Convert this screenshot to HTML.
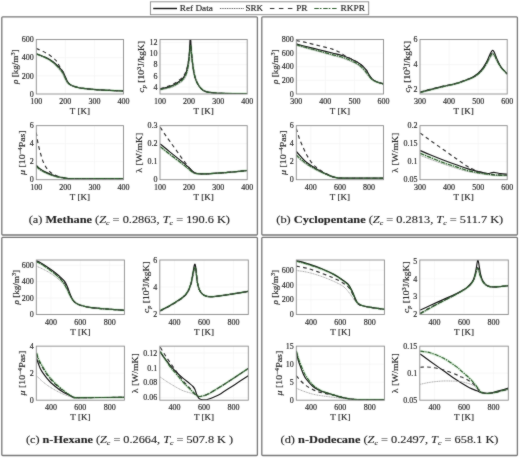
<!DOCTYPE html>
<html><head><meta charset="utf-8"><title>figure</title><style>
html,body{margin:0;padding:0;background:#fff;}
svg{display:block;}
text{font-family:"Liberation Serif","DejaVu Serif",serif;fill:#252525;stroke:#252525;stroke-width:0.16px;}
.t{font-size:8px;}
.l{font-size:9px;}
.c{font-size:11px;fill:#222;stroke-width:0.12px;}
.g{font-size:9px;}
</style></head><body>
<svg width="520" height="458" viewBox="0 0 520 458">
<defs><filter id="bl" x="0" y="0" width="520" height="458" filterUnits="userSpaceOnUse" color-interpolation-filters="sRGB"><feConvolveMatrix order="3" kernelMatrix="1 2 1 2 24 2 1 2 1" edgeMode="duplicate"/></filter></defs>
<g filter="url(#bl)">
<rect width="520" height="458" fill="#fff"/>
<rect x="1.8" y="16.8" width="255.6" height="218.2" rx="1" fill="none" stroke="#777" stroke-width="1.3"/>
<rect x="261.8" y="16.8" width="255.6" height="218.2" rx="1" fill="none" stroke="#777" stroke-width="1.3"/>
<rect x="1.8" y="237.3" width="255.6" height="218.2" rx="1" fill="none" stroke="#777" stroke-width="1.3"/>
<rect x="261.8" y="237.3" width="255.6" height="218.2" rx="1" fill="none" stroke="#777" stroke-width="1.3"/>
<line x1="65.37" y1="39.5" x2="65.37" y2="94.0" stroke="#f2f2f2" stroke-width="0.6"/>
<line x1="94.43" y1="39.5" x2="94.43" y2="94.0" stroke="#f2f2f2" stroke-width="0.6"/>
<line x1="36.3" y1="75.83" x2="123.5" y2="75.83" stroke="#f2f2f2" stroke-width="0.6"/>
<line x1="36.3" y1="57.67" x2="123.5" y2="57.67" stroke="#f2f2f2" stroke-width="0.6"/>
<clipPath id="cpA1"><rect x="36.3" y="39.5" width="87.20" height="54.50"/></clipPath>
<g clip-path="url(#cpA1)" fill="none" stroke-linejoin="round">
<path d="M36.30,54.00 C37.93,54.67 43.38,56.67 46.10,58.00 C48.83,59.33 50.52,60.33 52.65,62.00 C54.78,63.67 57.22,66.20 58.90,68.00 C60.58,69.80 61.63,71.08 62.70,72.80 C63.77,74.52 64.40,76.58 65.30,78.30 C66.20,80.02 66.93,81.85 68.10,83.10 C69.27,84.35 70.51,85.02 72.30,85.80 C74.09,86.58 77.05,87.32 78.85,87.75 C80.65,88.18 80.21,88.08 83.10,88.40 C85.99,88.73 91.83,89.37 96.20,89.70 C100.57,90.03 104.75,90.18 109.30,90.40 C113.85,90.62 121.13,90.90 123.50,91.00" stroke="#e2f3e2" stroke-width="2.8"/>
<path d="M36.30,53.70 C37.93,54.35 43.38,56.30 46.10,57.60 C48.83,58.90 50.47,59.87 52.65,61.50 C54.83,63.13 57.46,65.65 59.20,67.40 C60.94,69.15 62.01,70.25 63.10,72.00 C64.19,73.75 64.87,76.07 65.75,77.90 C66.63,79.73 67.31,81.68 68.40,83.00 C69.49,84.32 70.56,85.01 72.30,85.80 C74.04,86.59 77.05,87.32 78.85,87.75 C80.65,88.18 80.21,88.08 83.10,88.40 C85.99,88.73 91.83,89.37 96.20,89.70 C100.57,90.03 104.75,90.18 109.30,90.40 C113.85,90.62 121.13,90.90 123.50,91.00" stroke="#1a1a1a" stroke-width="1.2"/>
<path d="M36.30,54.30 C37.93,54.98 43.38,57.03 46.10,58.40 C48.83,59.77 50.58,60.80 52.65,62.50 C54.72,64.20 56.89,66.75 58.50,68.60 C60.11,70.45 61.23,71.92 62.30,73.60 C63.37,75.28 63.98,77.08 64.90,78.70 C65.82,80.32 66.57,82.10 67.80,83.30 C69.03,84.50 70.46,85.16 72.30,85.90 C74.14,86.64 77.05,87.33 78.85,87.75 C80.65,88.17 80.21,88.08 83.10,88.40 C85.99,88.73 91.83,89.37 96.20,89.70 C100.57,90.03 104.75,90.18 109.30,90.40 C113.85,90.62 121.13,90.90 123.50,91.00" stroke="#959595" stroke-width="0.8" stroke-dasharray="1.2 0.5"/>
<path d="M36.30,48.45 C37.93,49.21 43.38,51.49 46.10,53.00 C48.83,54.51 50.90,56.13 52.65,57.50 C54.40,58.87 55.44,59.70 56.60,61.20 C57.76,62.70 58.52,64.70 59.60,66.50 C60.68,68.30 62.08,70.10 63.10,72.00 C64.12,73.90 64.87,76.07 65.75,77.90 C66.63,79.73 67.31,81.68 68.40,83.00 C69.49,84.32 70.56,85.01 72.30,85.80 C74.04,86.59 77.05,87.32 78.85,87.75 C80.65,88.18 80.21,88.08 83.10,88.40 C85.99,88.73 91.83,89.37 96.20,89.70 C100.57,90.03 104.75,90.18 109.30,90.40 C113.85,90.62 121.13,90.90 123.50,91.00" stroke="#333" stroke-width="1.15" stroke-dasharray="3.7 3.2"/>
<path d="M36.30,54.00 C37.93,54.67 43.38,56.67 46.10,58.00 C48.83,59.33 50.52,60.33 52.65,62.00 C54.78,63.67 57.22,66.20 58.90,68.00 C60.58,69.80 61.63,71.08 62.70,72.80 C63.77,74.52 64.40,76.58 65.30,78.30 C66.20,80.02 66.93,81.85 68.10,83.10 C69.27,84.35 70.51,85.02 72.30,85.80 C74.09,86.58 77.05,87.32 78.85,87.75 C80.65,88.18 80.21,88.08 83.10,88.40 C85.99,88.73 91.83,89.37 96.20,89.70 C100.57,90.03 104.75,90.18 109.30,90.40 C113.85,90.62 121.13,90.90 123.50,91.00" stroke="#2b5c2b" stroke-width="1.15" stroke-dasharray="4.2 0.9 1.4 0.9"/>
</g>
<rect x="36.3" y="39.5" width="87.20" height="54.50" fill="none" stroke="#8c8c8c" stroke-width="0.9"/>
<text x="36.30" y="104.00" class="t" text-anchor="middle">100</text>
<text x="65.37" y="104.00" class="t" text-anchor="middle">200</text>
<text x="94.43" y="104.00" class="t" text-anchor="middle">300</text>
<text x="123.50" y="104.00" class="t" text-anchor="middle">400</text>
<text x="33.70" y="96.70" class="t" text-anchor="end">0</text>
<text x="33.70" y="78.53" class="t" text-anchor="end">200</text>
<text x="33.70" y="60.37" class="t" text-anchor="end">400</text>
<text x="33.70" y="42.20" class="t" text-anchor="end">600</text>
<text x="79.90" y="114.10" class="l" text-anchor="middle">T [K]</text>
<text transform="translate(17.50,66.75) rotate(-90)" class="l" text-anchor="middle" textLength="34.5" lengthAdjust="spacingAndGlyphs"><tspan font-style="italic">ρ</tspan> [kg/m<tspan dy="-3" font-size="6">3</tspan><tspan dy="3">]</tspan></text>
<line x1="189.07" y1="39.5" x2="189.07" y2="94.0" stroke="#f2f2f2" stroke-width="0.6"/>
<line x1="218.13" y1="39.5" x2="218.13" y2="94.0" stroke="#f2f2f2" stroke-width="0.6"/>
<line x1="160" y1="87.05" x2="247.2" y2="87.05" stroke="#f2f2f2" stroke-width="0.6"/>
<line x1="160" y1="75.85" x2="247.2" y2="75.85" stroke="#f2f2f2" stroke-width="0.6"/>
<line x1="160" y1="64.65" x2="247.2" y2="64.65" stroke="#f2f2f2" stroke-width="0.6"/>
<line x1="160" y1="53.45" x2="247.2" y2="53.45" stroke="#f2f2f2" stroke-width="0.6"/>
<line x1="160" y1="42.24" x2="247.2" y2="42.24" stroke="#f2f2f2" stroke-width="0.6"/>
<clipPath id="cpA2"><rect x="160" y="39.5" width="87.20" height="54.50"/></clipPath>
<g clip-path="url(#cpA2)" fill="none" stroke-linejoin="round">
<path d="M160.30,89.50 C161.93,89.08 167.38,87.92 170.10,87.00 C172.82,86.08 174.47,85.33 176.65,84.00 C178.83,82.67 181.56,80.83 183.20,79.00 C184.84,77.17 185.62,75.50 186.50,73.00 C187.38,70.50 187.97,67.33 188.50,64.00 C189.03,60.67 189.40,56.00 189.70,53.00 C190.00,50.00 190.08,47.00 190.30,46.00 C190.52,45.00 190.77,45.50 191.00,47.00 C191.23,48.50 191.42,52.17 191.70,55.00 C191.98,57.83 192.32,61.17 192.70,64.00 C193.08,66.83 193.52,69.47 194.00,72.00 C194.48,74.53 194.77,76.87 195.60,79.20 C196.43,81.53 197.77,84.17 199.00,86.00 C200.23,87.83 201.48,89.17 203.00,90.20 C204.52,91.23 206.10,91.73 208.10,92.20 C210.10,92.67 212.82,92.80 215.00,93.00 C217.18,93.20 215.83,93.30 221.20,93.40 C226.57,93.50 242.87,93.57 247.20,93.60" stroke="#e2f3e2" stroke-width="2.8"/>
<path d="M160.30,89.10 C161.93,88.65 167.38,87.38 170.10,86.40 C172.82,85.42 174.47,84.62 176.65,83.20 C178.83,81.78 181.56,79.87 183.20,77.90 C184.84,75.93 185.63,74.02 186.50,71.40 C187.37,68.78 187.90,65.48 188.40,62.20 C188.90,58.92 189.23,55.20 189.50,51.70 C189.77,48.20 189.85,43.65 190.00,41.20 C190.15,38.75 190.27,37.00 190.40,37.00 C190.53,37.00 190.65,38.75 190.80,41.20 C190.95,43.65 191.03,48.20 191.30,51.70 C191.57,55.20 192.02,58.92 192.40,62.20 C192.78,65.48 193.07,68.57 193.60,71.40 C194.13,74.23 194.70,76.77 195.60,79.20 C196.50,81.63 197.77,84.17 199.00,86.00 C200.23,87.83 201.48,89.17 203.00,90.20 C204.52,91.23 206.10,91.73 208.10,92.20 C210.10,92.67 212.82,92.80 215.00,93.00 C217.18,93.20 215.83,93.30 221.20,93.40 C226.57,93.50 242.87,93.57 247.20,93.60" stroke="#1a1a1a" stroke-width="1.2"/>
<path d="M160.30,90.00 C161.93,89.63 167.38,88.63 170.10,87.80 C172.82,86.97 174.47,86.22 176.65,85.00 C178.83,83.78 181.56,82.25 183.20,80.50 C184.84,78.75 185.60,77.08 186.50,74.50 C187.40,71.92 188.05,68.25 188.60,65.00 C189.15,61.75 189.48,57.67 189.80,55.00 C190.12,52.33 190.27,49.83 190.50,49.00 C190.73,48.17 190.95,48.50 191.20,50.00 C191.45,51.50 191.70,55.33 192.00,58.00 C192.30,60.67 192.63,63.50 193.00,66.00 C193.37,68.50 193.63,70.67 194.20,73.00 C194.77,75.33 195.52,77.78 196.40,80.00 C197.28,82.22 198.40,84.60 199.50,86.30 C200.60,88.00 201.57,89.22 203.00,90.20 C204.43,91.18 206.10,91.73 208.10,92.20 C210.10,92.67 212.82,92.80 215.00,93.00 C217.18,93.20 215.83,93.30 221.20,93.40 C226.57,93.50 242.87,93.57 247.20,93.60" stroke="#959595" stroke-width="0.8" stroke-dasharray="1.2 0.5"/>
<path d="M160.30,88.70 C161.93,88.18 167.38,86.72 170.10,85.60 C172.82,84.48 174.47,83.52 176.65,82.00 C178.83,80.48 181.59,78.42 183.20,76.50 C184.81,74.58 185.45,72.92 186.30,70.50 C187.15,68.08 187.77,65.08 188.30,62.00 C188.83,58.92 189.18,54.83 189.50,52.00 C189.82,49.17 189.97,46.00 190.20,45.00 C190.43,44.00 190.67,44.50 190.90,46.00 C191.13,47.50 191.32,51.17 191.60,54.00 C191.88,56.83 192.22,60.08 192.60,63.00 C192.98,65.92 193.40,68.80 193.90,71.50 C194.40,74.20 194.75,76.78 195.60,79.20 C196.45,81.62 197.77,84.17 199.00,86.00 C200.23,87.83 201.48,89.17 203.00,90.20 C204.52,91.23 206.10,91.73 208.10,92.20 C210.10,92.67 212.82,92.80 215.00,93.00 C217.18,93.20 215.83,93.30 221.20,93.40 C226.57,93.50 242.87,93.57 247.20,93.60" stroke="#333" stroke-width="1.15" stroke-dasharray="3.7 3.2"/>
<path d="M160.30,89.50 C161.93,89.08 167.38,87.92 170.10,87.00 C172.82,86.08 174.47,85.33 176.65,84.00 C178.83,82.67 181.56,80.83 183.20,79.00 C184.84,77.17 185.62,75.50 186.50,73.00 C187.38,70.50 187.97,67.33 188.50,64.00 C189.03,60.67 189.40,56.00 189.70,53.00 C190.00,50.00 190.08,47.00 190.30,46.00 C190.52,45.00 190.77,45.50 191.00,47.00 C191.23,48.50 191.42,52.17 191.70,55.00 C191.98,57.83 192.32,61.17 192.70,64.00 C193.08,66.83 193.52,69.47 194.00,72.00 C194.48,74.53 194.77,76.87 195.60,79.20 C196.43,81.53 197.77,84.17 199.00,86.00 C200.23,87.83 201.48,89.17 203.00,90.20 C204.52,91.23 206.10,91.73 208.10,92.20 C210.10,92.67 212.82,92.80 215.00,93.00 C217.18,93.20 215.83,93.30 221.20,93.40 C226.57,93.50 242.87,93.57 247.20,93.60" stroke="#2b5c2b" stroke-width="1.15" stroke-dasharray="4.2 0.9 1.4 0.9"/>
</g>
<rect x="160" y="39.5" width="87.20" height="54.50" fill="none" stroke="#8c8c8c" stroke-width="0.9"/>
<text x="160.00" y="104.00" class="t" text-anchor="middle">100</text>
<text x="189.07" y="104.00" class="t" text-anchor="middle">200</text>
<text x="218.13" y="104.00" class="t" text-anchor="middle">300</text>
<text x="247.20" y="104.00" class="t" text-anchor="middle">400</text>
<text x="157.40" y="89.75" class="t" text-anchor="end">4</text>
<text x="157.40" y="78.55" class="t" text-anchor="end">6</text>
<text x="157.40" y="67.35" class="t" text-anchor="end">8</text>
<text x="157.40" y="56.15" class="t" text-anchor="end">10</text>
<text x="157.40" y="44.94" class="t" text-anchor="end">12</text>
<text x="203.60" y="114.10" class="l" text-anchor="middle">T [K]</text>
<text transform="translate(144.40,66.75) rotate(-90)" class="l" text-anchor="middle" textLength="51.3" lengthAdjust="spacingAndGlyphs"><tspan font-style="italic">c</tspan><tspan dy="1.5" font-size="6" font-style="italic">p</tspan><tspan dy="-1.5"> [10</tspan><tspan dy="-3" font-size="6">3</tspan><tspan dy="3">J/kgK]</tspan></text>
<line x1="65.37" y1="125.65" x2="65.37" y2="179.7" stroke="#f2f2f2" stroke-width="0.6"/>
<line x1="94.43" y1="125.65" x2="94.43" y2="179.7" stroke="#f2f2f2" stroke-width="0.6"/>
<line x1="36.3" y1="161.68" x2="123.5" y2="161.68" stroke="#f2f2f2" stroke-width="0.6"/>
<line x1="36.3" y1="143.67" x2="123.5" y2="143.67" stroke="#f2f2f2" stroke-width="0.6"/>
<clipPath id="cpA3"><rect x="36.3" y="125.65" width="87.20" height="54.05"/></clipPath>
<g clip-path="url(#cpA3)" fill="none" stroke-linejoin="round">
<path d="M36.30,166.10 C36.84,166.62 37.92,168.07 39.55,169.20 C41.18,170.33 43.92,171.85 46.10,172.90 C48.28,173.95 50.47,174.78 52.65,175.50 C54.83,176.22 56.79,176.70 59.20,177.20 C61.61,177.70 64.92,178.25 67.10,178.50 C69.28,178.75 67.98,178.67 72.30,178.70 C76.62,178.73 84.47,178.72 93.00,178.70 C101.53,178.68 118.42,178.62 123.50,178.60" stroke="#e2f3e2" stroke-width="2.8"/>
<path d="M36.30,165.20 C36.84,165.75 37.92,167.30 39.55,168.50 C41.18,169.70 43.92,171.30 46.10,172.40 C48.28,173.50 50.47,174.33 52.65,175.10 C54.83,175.87 56.79,176.45 59.20,177.00 C61.61,177.55 64.92,178.12 67.10,178.40 C69.28,178.68 67.98,178.65 72.30,178.70 C76.62,178.75 84.47,178.72 93.00,178.70 C101.53,178.68 118.42,178.62 123.50,178.60" stroke="#1a1a1a" stroke-width="1.2"/>
<path d="M36.30,166.70 C36.84,167.22 37.92,168.70 39.55,169.80 C41.18,170.90 43.92,172.30 46.10,173.30 C48.28,174.30 50.47,175.12 52.65,175.80 C54.83,176.48 56.79,176.95 59.20,177.40 C61.61,177.85 64.92,178.28 67.10,178.50 C69.28,178.72 67.98,178.67 72.30,178.70 C76.62,178.73 84.47,178.72 93.00,178.70 C101.53,178.68 118.42,178.62 123.50,178.60" stroke="#959595" stroke-width="0.8" stroke-dasharray="1.2 0.5"/>
<path d="M36.30,132.50 C36.62,134.47 37.43,140.59 38.20,144.30 C38.97,148.01 40.02,151.70 40.90,154.75 C41.78,157.80 42.42,160.19 43.50,162.60 C44.58,165.01 45.88,167.32 47.40,169.20 C48.92,171.08 50.68,172.63 52.65,173.90 C54.62,175.17 56.79,176.05 59.20,176.80 C61.61,177.55 64.92,178.08 67.10,178.40 C69.28,178.72 67.98,178.65 72.30,178.70 C76.62,178.75 84.47,178.72 93.00,178.70 C101.53,178.68 118.42,178.62 123.50,178.60" stroke="#333" stroke-width="1.15" stroke-dasharray="3.7 3.2"/>
<path d="M36.30,166.10 C36.84,166.62 37.92,168.07 39.55,169.20 C41.18,170.33 43.92,171.85 46.10,172.90 C48.28,173.95 50.47,174.78 52.65,175.50 C54.83,176.22 56.79,176.70 59.20,177.20 C61.61,177.70 64.92,178.25 67.10,178.50 C69.28,178.75 67.98,178.67 72.30,178.70 C76.62,178.73 84.47,178.72 93.00,178.70 C101.53,178.68 118.42,178.62 123.50,178.60" stroke="#2b5c2b" stroke-width="1.15" stroke-dasharray="4.2 0.9 1.4 0.9"/>
</g>
<rect x="36.3" y="125.65" width="87.20" height="54.05" fill="none" stroke="#8c8c8c" stroke-width="0.9"/>
<text x="36.30" y="189.70" class="t" text-anchor="middle">100</text>
<text x="65.37" y="189.70" class="t" text-anchor="middle">200</text>
<text x="94.43" y="189.70" class="t" text-anchor="middle">300</text>
<text x="123.50" y="189.70" class="t" text-anchor="middle">400</text>
<text x="33.70" y="182.40" class="t" text-anchor="end">0</text>
<text x="33.70" y="164.38" class="t" text-anchor="end">2</text>
<text x="33.70" y="146.37" class="t" text-anchor="end">4</text>
<text x="33.70" y="128.35" class="t" text-anchor="end">6</text>
<text x="79.90" y="199.80" class="l" text-anchor="middle">T [K]</text>
<text transform="translate(24.70,152.68) rotate(-90)" class="l" text-anchor="middle" textLength="44.7" lengthAdjust="spacingAndGlyphs"><tspan font-style="italic">μ</tspan> [10<tspan dy="-3" font-size="6">−4</tspan><tspan dy="3">Pas]</tspan></text>
<line x1="189.07" y1="125.65" x2="189.07" y2="179.7" stroke="#f2f2f2" stroke-width="0.6"/>
<line x1="218.13" y1="125.65" x2="218.13" y2="179.7" stroke="#f2f2f2" stroke-width="0.6"/>
<line x1="160" y1="161.68" x2="247.2" y2="161.68" stroke="#f2f2f2" stroke-width="0.6"/>
<line x1="160" y1="143.67" x2="247.2" y2="143.67" stroke="#f2f2f2" stroke-width="0.6"/>
<clipPath id="cpA4"><rect x="160" y="125.65" width="87.20" height="54.05"/></clipPath>
<g clip-path="url(#cpA4)" fill="none" stroke-linejoin="round">
<path d="M160.30,146.60 C161.93,147.92 166.28,151.52 170.10,154.50 C173.92,157.48 179.95,161.95 183.20,164.50 C186.45,167.05 187.87,168.42 189.60,169.80 C191.33,171.18 192.37,172.15 193.60,172.80 C194.83,173.45 195.68,173.52 197.00,173.70 C198.32,173.88 199.70,173.88 201.55,173.90 C203.40,173.92 204.82,173.97 208.10,173.80 C211.38,173.63 216.83,173.23 221.20,172.90 C225.57,172.57 229.97,172.20 234.30,171.80 C238.63,171.40 245.05,170.72 247.20,170.50" stroke="#e2f3e2" stroke-width="2.8"/>
<path d="M160.30,144.00 C161.93,145.35 166.28,149.00 170.10,152.10 C173.92,155.20 179.92,159.87 183.20,162.60 C186.47,165.33 188.00,166.90 189.75,168.50 C191.50,170.10 192.49,171.37 193.70,172.20 C194.91,173.03 195.69,173.22 197.00,173.50 C198.31,173.78 199.70,173.85 201.55,173.90 C203.40,173.95 204.82,173.97 208.10,173.80 C211.38,173.63 216.83,173.23 221.20,172.90 C225.57,172.57 229.97,172.20 234.30,171.80 C238.63,171.40 245.05,170.72 247.20,170.50" stroke="#1a1a1a" stroke-width="1.2"/>
<path d="M160.30,147.20 C161.93,148.50 166.28,152.03 170.10,155.00 C173.92,157.97 179.97,162.47 183.20,165.00 C186.43,167.53 187.78,168.87 189.50,170.20 C191.22,171.53 192.25,172.40 193.50,173.00 C194.75,173.60 195.66,173.65 197.00,173.80 C198.34,173.95 199.70,173.90 201.55,173.90 C203.40,173.90 204.82,173.97 208.10,173.80 C211.38,173.63 216.83,173.23 221.20,172.90 C225.57,172.57 229.97,172.20 234.30,171.80 C238.63,171.40 245.05,170.72 247.20,170.50" stroke="#959595" stroke-width="0.8" stroke-dasharray="1.2 0.5"/>
<path d="M160.30,127.30 C161.07,128.48 163.27,132.00 164.90,134.40 C166.53,136.80 168.14,138.97 170.10,141.70 C172.06,144.43 174.47,147.75 176.65,150.80 C178.83,153.85 181.02,157.08 183.20,160.00 C185.38,162.92 188.00,166.27 189.75,168.30 C191.50,170.33 192.49,171.33 193.70,172.20 C194.91,173.07 195.69,173.22 197.00,173.50 C198.31,173.78 199.70,173.85 201.55,173.90 C203.40,173.95 204.82,173.97 208.10,173.80 C211.38,173.63 216.83,173.23 221.20,172.90 C225.57,172.57 229.97,172.20 234.30,171.80 C238.63,171.40 245.05,170.72 247.20,170.50" stroke="#333" stroke-width="1.15" stroke-dasharray="3.7 3.2"/>
<path d="M160.30,146.60 C161.93,147.92 166.28,151.52 170.10,154.50 C173.92,157.48 179.95,161.95 183.20,164.50 C186.45,167.05 187.87,168.42 189.60,169.80 C191.33,171.18 192.37,172.15 193.60,172.80 C194.83,173.45 195.68,173.52 197.00,173.70 C198.32,173.88 199.70,173.88 201.55,173.90 C203.40,173.92 204.82,173.97 208.10,173.80 C211.38,173.63 216.83,173.23 221.20,172.90 C225.57,172.57 229.97,172.20 234.30,171.80 C238.63,171.40 245.05,170.72 247.20,170.50" stroke="#2b5c2b" stroke-width="1.15" stroke-dasharray="4.2 0.9 1.4 0.9"/>
</g>
<rect x="160" y="125.65" width="87.20" height="54.05" fill="none" stroke="#8c8c8c" stroke-width="0.9"/>
<text x="160.00" y="189.70" class="t" text-anchor="middle">100</text>
<text x="189.07" y="189.70" class="t" text-anchor="middle">200</text>
<text x="218.13" y="189.70" class="t" text-anchor="middle">300</text>
<text x="247.20" y="189.70" class="t" text-anchor="middle">400</text>
<text x="157.40" y="182.40" class="t" text-anchor="end">0</text>
<text x="157.40" y="164.38" class="t" text-anchor="end">0.1</text>
<text x="157.40" y="146.37" class="t" text-anchor="end">0.2</text>
<text x="157.40" y="128.35" class="t" text-anchor="end">0.3</text>
<text x="203.60" y="199.80" class="l" text-anchor="middle">T [K]</text>
<text transform="translate(141.90,152.68) rotate(-90)" class="l" text-anchor="middle" textLength="40.0" lengthAdjust="spacingAndGlyphs"><tspan>λ</tspan> [W/mK]</text>
<line x1="325.37" y1="39.5" x2="325.37" y2="94.0" stroke="#f2f2f2" stroke-width="0.6"/>
<line x1="354.43" y1="39.5" x2="354.43" y2="94.0" stroke="#f2f2f2" stroke-width="0.6"/>
<line x1="296.3" y1="80.38" x2="383.5" y2="80.38" stroke="#f2f2f2" stroke-width="0.6"/>
<line x1="296.3" y1="66.75" x2="383.5" y2="66.75" stroke="#f2f2f2" stroke-width="0.6"/>
<line x1="296.3" y1="53.12" x2="383.5" y2="53.12" stroke="#f2f2f2" stroke-width="0.6"/>
<clipPath id="cpB1"><rect x="296.3" y="39.5" width="87.20" height="54.50"/></clipPath>
<g clip-path="url(#cpB1)" fill="none" stroke-linejoin="round">
<path d="M296.30,44.80 C297.93,45.25 302.28,46.47 306.10,47.50 C309.92,48.53 314.83,49.82 319.20,51.00 C323.57,52.18 328.32,53.53 332.30,54.60 C336.28,55.67 339.12,55.98 343.10,57.40 C347.08,58.82 352.93,61.28 356.20,63.10 C359.47,64.92 360.87,66.48 362.75,68.30 C364.63,70.12 366.12,72.30 367.50,74.00 C368.88,75.70 369.75,77.28 371.00,78.50 C372.25,79.72 373.75,80.62 375.00,81.30 C376.25,81.98 377.08,82.18 378.50,82.60 C379.92,83.02 382.67,83.60 383.50,83.80" stroke="#e2f3e2" stroke-width="2.8"/>
<path d="M296.30,43.90 C297.93,44.33 302.28,45.52 306.10,46.50 C309.92,47.48 314.83,48.67 319.20,49.75 C323.57,50.83 328.32,51.99 332.30,53.00 C336.28,54.01 339.12,54.38 343.10,55.80 C347.08,57.22 352.93,59.78 356.20,61.50 C359.47,63.22 361.00,64.57 362.75,66.10 C364.50,67.63 365.61,69.17 366.70,70.70 C367.79,72.23 368.22,73.77 369.30,75.30 C370.38,76.83 371.67,78.70 373.20,79.90 C374.73,81.10 376.78,81.85 378.50,82.50 C380.22,83.15 382.67,83.58 383.50,83.80" stroke="#1a1a1a" stroke-width="1.2"/>
<path d="M296.30,45.40 C297.93,45.87 302.28,47.15 306.10,48.20 C309.92,49.25 314.83,50.50 319.20,51.70 C323.57,52.90 328.32,54.30 332.30,55.40 C336.28,56.50 339.12,56.87 343.10,58.30 C347.08,59.73 352.93,62.18 356.20,64.00 C359.47,65.82 360.78,67.23 362.75,69.20 C364.72,71.17 366.26,73.90 368.00,75.80 C369.74,77.70 371.45,79.45 373.20,80.60 C374.95,81.75 376.78,82.17 378.50,82.70 C380.22,83.23 382.67,83.62 383.50,83.80" stroke="#959595" stroke-width="0.8" stroke-dasharray="1.2 0.5"/>
<path d="M296.30,40.60 C297.93,40.92 302.28,41.68 306.10,42.55 C309.92,43.42 314.83,44.71 319.20,45.80 C323.57,46.89 328.83,47.98 332.30,49.10 C335.77,50.22 337.82,51.35 340.00,52.50 C342.18,53.65 342.70,54.50 345.40,56.00 C348.10,57.50 353.31,59.82 356.20,61.50 C359.09,63.18 361.00,64.57 362.75,66.10 C364.50,67.63 365.61,69.17 366.70,70.70 C367.79,72.23 368.22,73.77 369.30,75.30 C370.38,76.83 371.67,78.70 373.20,79.90 C374.73,81.10 376.78,81.85 378.50,82.50 C380.22,83.15 382.67,83.58 383.50,83.80" stroke="#333" stroke-width="1.15" stroke-dasharray="3.7 3.2"/>
<path d="M296.30,44.80 C297.93,45.25 302.28,46.47 306.10,47.50 C309.92,48.53 314.83,49.82 319.20,51.00 C323.57,52.18 328.32,53.53 332.30,54.60 C336.28,55.67 339.12,55.98 343.10,57.40 C347.08,58.82 352.93,61.28 356.20,63.10 C359.47,64.92 360.87,66.48 362.75,68.30 C364.63,70.12 366.12,72.30 367.50,74.00 C368.88,75.70 369.75,77.28 371.00,78.50 C372.25,79.72 373.75,80.62 375.00,81.30 C376.25,81.98 377.08,82.18 378.50,82.60 C379.92,83.02 382.67,83.60 383.50,83.80" stroke="#2b5c2b" stroke-width="1.15" stroke-dasharray="4.2 0.9 1.4 0.9"/>
</g>
<rect x="296.3" y="39.5" width="87.20" height="54.50" fill="none" stroke="#8c8c8c" stroke-width="0.9"/>
<text x="296.30" y="104.00" class="t" text-anchor="middle">300</text>
<text x="325.37" y="104.00" class="t" text-anchor="middle">400</text>
<text x="354.43" y="104.00" class="t" text-anchor="middle">500</text>
<text x="383.50" y="104.00" class="t" text-anchor="middle">600</text>
<text x="293.70" y="96.70" class="t" text-anchor="end">0</text>
<text x="293.70" y="83.08" class="t" text-anchor="end">200</text>
<text x="293.70" y="69.45" class="t" text-anchor="end">400</text>
<text x="293.70" y="55.83" class="t" text-anchor="end">600</text>
<text x="293.70" y="42.20" class="t" text-anchor="end">800</text>
<text x="339.90" y="114.10" class="l" text-anchor="middle">T [K]</text>
<text transform="translate(278.00,66.75) rotate(-90)" class="l" text-anchor="middle" textLength="34.5" lengthAdjust="spacingAndGlyphs"><tspan font-style="italic">ρ</tspan> [kg/m<tspan dy="-3" font-size="6">3</tspan><tspan dy="3">]</tspan></text>
<line x1="449.07" y1="39.5" x2="449.07" y2="94.0" stroke="#f2f2f2" stroke-width="0.6"/>
<line x1="478.13" y1="39.5" x2="478.13" y2="94.0" stroke="#f2f2f2" stroke-width="0.6"/>
<line x1="420" y1="89.68" x2="507.2" y2="89.68" stroke="#f2f2f2" stroke-width="0.6"/>
<line x1="420" y1="64.59" x2="507.2" y2="64.59" stroke="#f2f2f2" stroke-width="0.6"/>
<clipPath id="cpB2"><rect x="420" y="39.5" width="87.20" height="54.50"/></clipPath>
<g clip-path="url(#cpB2)" fill="none" stroke-linejoin="round">
<path d="M420.30,92.50 C421.93,92.07 426.28,90.88 430.10,89.90 C433.92,88.92 438.83,87.65 443.20,86.60 C447.57,85.55 452.15,84.78 456.30,83.60 C460.45,82.42 465.04,80.68 468.10,79.50 C471.16,78.32 472.47,77.88 474.65,76.50 C476.83,75.12 479.24,73.32 481.20,71.20 C483.16,69.08 484.98,66.12 486.40,63.80 C487.82,61.48 488.72,58.93 489.70,57.30 C490.68,55.67 491.52,54.38 492.30,54.00 C493.08,53.62 493.62,53.92 494.40,55.00 C495.18,56.08 495.93,58.47 497.00,60.50 C498.07,62.53 499.55,65.37 500.85,67.20 C502.15,69.03 503.71,70.37 504.80,71.50 C505.89,72.63 506.97,73.58 507.40,74.00" stroke="#e2f3e2" stroke-width="2.8"/>
<path d="M420.30,92.30 C421.93,91.87 426.28,90.68 430.10,89.70 C433.92,88.72 438.83,87.43 443.20,86.40 C447.57,85.37 452.15,84.68 456.30,83.50 C460.45,82.32 465.04,80.55 468.10,79.30 C471.16,78.05 472.47,77.53 474.65,76.00 C476.83,74.47 479.24,72.40 481.20,70.10 C483.16,67.80 484.98,64.72 486.40,62.20 C487.82,59.68 488.72,56.97 489.70,55.00 C490.68,53.03 491.53,50.83 492.30,50.40 C493.07,49.97 493.53,50.98 494.30,52.40 C495.07,53.82 495.81,56.50 496.90,58.90 C497.99,61.30 499.53,64.72 500.85,66.80 C502.17,68.88 503.71,70.20 504.80,71.40 C505.89,72.60 506.97,73.57 507.40,74.00" stroke="#1a1a1a" stroke-width="1.2"/>
<path d="M420.30,92.80 C421.93,92.37 426.28,91.18 430.10,90.20 C433.92,89.22 438.83,87.95 443.20,86.90 C447.57,85.85 452.15,85.08 456.30,83.90 C460.45,82.72 465.04,80.95 468.10,79.80 C471.16,78.65 472.47,78.33 474.65,77.00 C476.83,75.67 479.24,73.83 481.20,71.80 C483.16,69.77 484.98,66.97 486.40,64.80 C487.82,62.63 488.72,60.28 489.70,58.80 C490.68,57.32 491.50,56.27 492.30,55.90 C493.10,55.53 493.72,55.75 494.50,56.60 C495.28,57.45 495.94,59.18 497.00,61.00 C498.06,62.82 499.55,65.73 500.85,67.50 C502.15,69.27 503.71,70.52 504.80,71.60 C505.89,72.68 506.97,73.60 507.40,74.00" stroke="#959595" stroke-width="0.8" stroke-dasharray="1.2 0.5"/>
<path d="M420.30,92.00 C421.93,91.57 426.28,90.38 430.10,89.40 C433.92,88.42 438.83,87.13 443.20,86.10 C447.57,85.07 452.15,84.37 456.30,83.20 C460.45,82.03 465.04,80.27 468.10,79.10 C471.16,77.93 472.47,77.58 474.65,76.20 C476.83,74.82 479.24,72.97 481.20,70.80 C483.16,68.63 484.98,65.58 486.40,63.20 C487.82,60.82 488.72,58.20 489.70,56.50 C490.68,54.80 491.52,53.38 492.30,53.00 C493.08,52.62 493.62,53.03 494.40,54.20 C495.18,55.37 495.93,57.87 497.00,60.00 C498.07,62.13 499.55,65.08 500.85,67.00 C502.15,68.92 503.71,70.33 504.80,71.50 C505.89,72.67 506.97,73.58 507.40,74.00" stroke="#333" stroke-width="1.15" stroke-dasharray="3.7 3.2"/>
<path d="M420.30,92.50 C421.93,92.07 426.28,90.88 430.10,89.90 C433.92,88.92 438.83,87.65 443.20,86.60 C447.57,85.55 452.15,84.78 456.30,83.60 C460.45,82.42 465.04,80.68 468.10,79.50 C471.16,78.32 472.47,77.88 474.65,76.50 C476.83,75.12 479.24,73.32 481.20,71.20 C483.16,69.08 484.98,66.12 486.40,63.80 C487.82,61.48 488.72,58.93 489.70,57.30 C490.68,55.67 491.52,54.38 492.30,54.00 C493.08,53.62 493.62,53.92 494.40,55.00 C495.18,56.08 495.93,58.47 497.00,60.50 C498.07,62.53 499.55,65.37 500.85,67.20 C502.15,69.03 503.71,70.37 504.80,71.50 C505.89,72.63 506.97,73.58 507.40,74.00" stroke="#2b5c2b" stroke-width="1.15" stroke-dasharray="4.2 0.9 1.4 0.9"/>
</g>
<rect x="420" y="39.5" width="87.20" height="54.50" fill="none" stroke="#8c8c8c" stroke-width="0.9"/>
<text x="420.00" y="104.00" class="t" text-anchor="middle">300</text>
<text x="449.07" y="104.00" class="t" text-anchor="middle">400</text>
<text x="478.13" y="104.00" class="t" text-anchor="middle">500</text>
<text x="507.20" y="104.00" class="t" text-anchor="middle">600</text>
<text x="417.40" y="92.38" class="t" text-anchor="end">2</text>
<text x="417.40" y="67.29" class="t" text-anchor="end">4</text>
<text x="417.40" y="42.20" class="t" text-anchor="end">6</text>
<text x="463.60" y="114.10" class="l" text-anchor="middle">T [K]</text>
<text transform="translate(409.90,66.75) rotate(-90)" class="l" text-anchor="middle" textLength="51.3" lengthAdjust="spacingAndGlyphs"><tspan font-style="italic">c</tspan><tspan dy="1.5" font-size="6" font-style="italic">p</tspan><tspan dy="-1.5"> [10</tspan><tspan dy="-3" font-size="6">3</tspan><tspan dy="3">J/kgK]</tspan></text>
<line x1="310.83" y1="125.65" x2="310.83" y2="179.7" stroke="#f2f2f2" stroke-width="0.6"/>
<line x1="339.90" y1="125.65" x2="339.90" y2="179.7" stroke="#f2f2f2" stroke-width="0.6"/>
<line x1="368.97" y1="125.65" x2="368.97" y2="179.7" stroke="#f2f2f2" stroke-width="0.6"/>
<line x1="296.3" y1="161.68" x2="383.5" y2="161.68" stroke="#f2f2f2" stroke-width="0.6"/>
<line x1="296.3" y1="143.67" x2="383.5" y2="143.67" stroke="#f2f2f2" stroke-width="0.6"/>
<clipPath id="cpB3"><rect x="296.3" y="125.65" width="87.20" height="54.05"/></clipPath>
<g clip-path="url(#cpB3)" fill="none" stroke-linejoin="round">
<path d="M296.30,155.00 C297.07,155.70 299.27,157.80 300.90,159.20 C302.53,160.60 304.14,162.02 306.10,163.40 C308.06,164.78 310.47,166.22 312.65,167.50 C314.83,168.78 317.02,170.00 319.20,171.10 C321.38,172.20 323.57,173.17 325.75,174.10 C327.93,175.03 330.34,176.07 332.30,176.70 C334.26,177.33 335.38,177.65 337.50,177.90 C339.62,178.15 337.33,178.15 345.00,178.20 C352.67,178.25 377.08,178.20 383.50,178.20" stroke="#e2f3e2" stroke-width="2.8"/>
<path d="M296.30,151.50 C297.07,152.37 299.27,154.95 300.90,156.70 C302.53,158.45 304.14,160.37 306.10,162.00 C308.06,163.63 310.47,165.08 312.65,166.50 C314.83,167.92 317.02,169.29 319.20,170.50 C321.38,171.71 323.57,172.73 325.75,173.75 C327.93,174.77 330.34,175.91 332.30,176.60 C334.26,177.29 335.38,177.63 337.50,177.90 C339.62,178.17 337.33,178.15 345.00,178.20 C352.67,178.25 377.08,178.20 383.50,178.20" stroke="#1a1a1a" stroke-width="1.2"/>
<path d="M296.30,156.50 C297.07,157.17 299.27,159.20 300.90,160.50 C302.53,161.80 304.14,163.03 306.10,164.30 C308.06,165.57 310.47,166.90 312.65,168.10 C314.83,169.30 317.02,170.47 319.20,171.50 C321.38,172.53 323.57,173.42 325.75,174.30 C327.93,175.18 330.34,176.20 332.30,176.80 C334.26,177.40 335.38,177.67 337.50,177.90 C339.62,178.13 337.33,178.15 345.00,178.20 C352.67,178.25 377.08,178.20 383.50,178.20" stroke="#959595" stroke-width="0.8" stroke-dasharray="1.2 0.5"/>
<path d="M296.30,128.55 C296.84,130.29 298.35,135.72 299.55,139.00 C300.75,142.28 302.19,145.35 303.50,148.20 C304.81,151.05 305.88,153.48 307.40,156.10 C308.92,158.72 310.90,161.83 312.65,163.90 C314.40,165.97 315.72,166.88 317.90,168.50 C320.08,170.12 323.35,172.25 325.75,173.60 C328.15,174.95 330.34,175.88 332.30,176.60 C334.26,177.32 335.38,177.63 337.50,177.90 C339.62,178.17 337.33,178.15 345.00,178.20 C352.67,178.25 377.08,178.20 383.50,178.20" stroke="#333" stroke-width="1.15" stroke-dasharray="3.7 3.2"/>
<path d="M296.30,155.00 C297.07,155.70 299.27,157.80 300.90,159.20 C302.53,160.60 304.14,162.02 306.10,163.40 C308.06,164.78 310.47,166.22 312.65,167.50 C314.83,168.78 317.02,170.00 319.20,171.10 C321.38,172.20 323.57,173.17 325.75,174.10 C327.93,175.03 330.34,176.07 332.30,176.70 C334.26,177.33 335.38,177.65 337.50,177.90 C339.62,178.15 337.33,178.15 345.00,178.20 C352.67,178.25 377.08,178.20 383.50,178.20" stroke="#2b5c2b" stroke-width="1.15" stroke-dasharray="4.2 0.9 1.4 0.9"/>
</g>
<rect x="296.3" y="125.65" width="87.20" height="54.05" fill="none" stroke="#8c8c8c" stroke-width="0.9"/>
<text x="310.83" y="189.70" class="t" text-anchor="middle">400</text>
<text x="339.90" y="189.70" class="t" text-anchor="middle">600</text>
<text x="368.97" y="189.70" class="t" text-anchor="middle">800</text>
<text x="293.70" y="182.40" class="t" text-anchor="end">0</text>
<text x="293.70" y="164.38" class="t" text-anchor="end">2</text>
<text x="293.70" y="146.37" class="t" text-anchor="end">4</text>
<text x="293.70" y="128.35" class="t" text-anchor="end">6</text>
<text x="339.90" y="199.80" class="l" text-anchor="middle">T [K]</text>
<text transform="translate(285.60,152.68) rotate(-90)" class="l" text-anchor="middle" textLength="44.7" lengthAdjust="spacingAndGlyphs"><tspan font-style="italic">μ</tspan> [10<tspan dy="-3" font-size="6">−4</tspan><tspan dy="3">Pas]</tspan></text>
<line x1="449.07" y1="125.65" x2="449.07" y2="179.7" stroke="#f2f2f2" stroke-width="0.6"/>
<line x1="478.13" y1="125.65" x2="478.13" y2="179.7" stroke="#f2f2f2" stroke-width="0.6"/>
<line x1="420" y1="161.68" x2="507.2" y2="161.68" stroke="#f2f2f2" stroke-width="0.6"/>
<line x1="420" y1="143.67" x2="507.2" y2="143.67" stroke="#f2f2f2" stroke-width="0.6"/>
<clipPath id="cpB4"><rect x="420" y="125.65" width="87.20" height="54.05"/></clipPath>
<g clip-path="url(#cpB4)" fill="none" stroke-linejoin="round">
<path d="M420.30,153.40 C421.93,154.07 426.28,155.87 430.10,157.40 C433.92,158.93 438.83,161.02 443.20,162.60 C447.57,164.18 452.15,165.55 456.30,166.90 C460.45,168.25 463.95,169.65 468.10,170.70 C472.25,171.75 476.83,172.48 481.20,173.20 C485.57,173.92 489.93,174.62 494.30,175.00 C498.67,175.38 505.22,175.42 507.40,175.50" stroke="#e2f3e2" stroke-width="2.8"/>
<path d="M420.30,150.60 C421.93,151.29 426.28,153.18 430.10,154.75 C433.92,156.32 438.83,158.32 443.20,160.00 C447.57,161.68 452.15,163.33 456.30,164.80 C460.45,166.27 463.95,167.57 468.10,168.80 C472.25,170.03 477.93,171.42 481.20,172.20 C484.47,172.98 485.95,173.43 487.75,173.50 C489.55,173.57 490.79,172.77 492.00,172.60 C493.21,172.43 493.52,172.33 495.00,172.50 C496.48,172.67 498.78,173.32 500.85,173.60 C502.92,173.88 506.31,174.10 507.40,174.20" stroke="#1a1a1a" stroke-width="1.2"/>
<path d="M420.30,155.40 C421.93,156.05 426.28,157.88 430.10,159.30 C433.92,160.72 438.83,162.40 443.20,163.90 C447.57,165.40 452.15,167.02 456.30,168.30 C460.45,169.58 463.95,170.68 468.10,171.60 C472.25,172.52 476.83,173.17 481.20,173.80 C485.57,174.43 489.93,175.07 494.30,175.40 C498.67,175.73 505.22,175.73 507.40,175.80" stroke="#959595" stroke-width="0.8" stroke-dasharray="1.2 0.5"/>
<path d="M420.30,133.10 C421.93,134.30 426.28,137.57 430.10,140.30 C433.92,143.03 438.83,146.43 443.20,149.50 C447.57,152.57 452.37,155.95 456.30,158.70 C460.23,161.45 464.18,164.32 466.80,166.00 C469.42,167.68 469.60,167.73 472.00,168.80 C474.40,169.87 477.48,171.43 481.20,172.40 C484.92,173.37 489.93,174.12 494.30,174.60 C498.67,175.08 505.22,175.18 507.40,175.30" stroke="#333" stroke-width="1.15" stroke-dasharray="3.7 3.2"/>
<path d="M420.30,153.40 C421.93,154.07 426.28,155.87 430.10,157.40 C433.92,158.93 438.83,161.02 443.20,162.60 C447.57,164.18 452.15,165.55 456.30,166.90 C460.45,168.25 463.95,169.65 468.10,170.70 C472.25,171.75 476.83,172.48 481.20,173.20 C485.57,173.92 489.93,174.62 494.30,175.00 C498.67,175.38 505.22,175.42 507.40,175.50" stroke="#2b5c2b" stroke-width="1.15" stroke-dasharray="4.2 0.9 1.4 0.9"/>
</g>
<rect x="420" y="125.65" width="87.20" height="54.05" fill="none" stroke="#8c8c8c" stroke-width="0.9"/>
<text x="420.00" y="189.70" class="t" text-anchor="middle">300</text>
<text x="449.07" y="189.70" class="t" text-anchor="middle">400</text>
<text x="478.13" y="189.70" class="t" text-anchor="middle">500</text>
<text x="507.20" y="189.70" class="t" text-anchor="middle">600</text>
<text x="417.40" y="182.40" class="t" text-anchor="end">0.05</text>
<text x="417.40" y="164.38" class="t" text-anchor="end">0.1</text>
<text x="417.40" y="146.37" class="t" text-anchor="end">0.15</text>
<text x="417.40" y="128.35" class="t" text-anchor="end">0.2</text>
<text x="463.60" y="199.80" class="l" text-anchor="middle">T [K]</text>
<text transform="translate(398.05,152.68) rotate(-90)" class="l" text-anchor="middle" textLength="40.0" lengthAdjust="spacingAndGlyphs"><tspan>λ</tspan> [W/mK]</text>
<line x1="50.98" y1="260.0" x2="50.98" y2="314.5" stroke="#f2f2f2" stroke-width="0.6"/>
<line x1="80.35" y1="260.0" x2="80.35" y2="314.5" stroke="#f2f2f2" stroke-width="0.6"/>
<line x1="109.72" y1="260.0" x2="109.72" y2="314.5" stroke="#f2f2f2" stroke-width="0.6"/>
<line x1="36.3" y1="298.08" x2="124.4" y2="298.08" stroke="#f2f2f2" stroke-width="0.6"/>
<line x1="36.3" y1="281.67" x2="124.4" y2="281.67" stroke="#f2f2f2" stroke-width="0.6"/>
<line x1="36.3" y1="265.25" x2="124.4" y2="265.25" stroke="#f2f2f2" stroke-width="0.6"/>
<clipPath id="cpC1"><rect x="36.3" y="260.0" width="88.10" height="54.50"/></clipPath>
<g clip-path="url(#cpC1)" fill="none" stroke-linejoin="round">
<path d="M36.30,261.60 C37.07,261.98 39.27,262.95 40.90,263.90 C42.53,264.85 44.14,265.92 46.10,267.30 C48.06,268.68 50.47,270.45 52.65,272.20 C54.83,273.95 57.33,275.92 59.20,277.80 C61.08,279.68 62.62,281.63 63.90,283.50 C65.18,285.37 66.03,287.32 66.90,289.00 C67.77,290.68 68.37,292.13 69.10,293.60 C69.83,295.07 70.57,296.60 71.30,297.80 C72.03,299.00 72.68,299.88 73.50,300.80 C74.32,301.72 75.03,302.57 76.20,303.30 C77.37,304.03 78.26,304.52 80.50,305.20 C82.74,305.88 85.94,306.81 89.65,307.40 C93.36,307.99 98.38,308.37 102.75,308.75 C107.12,309.13 112.24,309.44 115.85,309.70 C119.46,309.96 122.98,310.20 124.40,310.30" stroke="#e2f3e2" stroke-width="2.8"/>
<path d="M36.30,260.70 C37.07,261.07 39.27,261.98 40.90,262.90 C42.53,263.82 44.14,264.89 46.10,266.20 C48.06,267.51 50.47,269.12 52.65,270.75 C54.83,272.38 57.23,274.26 59.20,276.00 C61.17,277.74 63.07,279.37 64.45,281.20 C65.83,283.03 66.66,285.12 67.50,287.00 C68.34,288.88 68.83,290.75 69.50,292.50 C70.17,294.25 70.83,296.12 71.50,297.50 C72.17,298.88 72.72,299.83 73.50,300.80 C74.28,301.77 75.03,302.57 76.20,303.30 C77.37,304.03 78.26,304.52 80.50,305.20 C82.74,305.88 85.94,306.81 89.65,307.40 C93.36,307.99 98.38,308.37 102.75,308.75 C107.12,309.13 112.24,309.44 115.85,309.70 C119.46,309.96 122.98,310.20 124.40,310.30" stroke="#1a1a1a" stroke-width="1.2"/>
<path d="M36.30,266.20 C37.07,266.52 39.27,267.34 40.90,268.10 C42.53,268.86 44.14,269.65 46.10,270.75 C48.06,271.85 50.47,273.18 52.65,274.70 C54.83,276.22 57.23,278.15 59.20,279.90 C61.17,281.65 63.07,283.45 64.45,285.20 C65.83,286.95 66.58,288.63 67.50,290.40 C68.42,292.17 69.17,294.28 70.00,295.80 C70.83,297.32 71.67,298.42 72.50,299.50 C73.33,300.58 73.67,301.35 75.00,302.30 C76.33,303.25 78.06,304.35 80.50,305.20 C82.94,306.05 85.94,306.81 89.65,307.40 C93.36,307.99 98.38,308.37 102.75,308.75 C107.12,309.13 112.24,309.44 115.85,309.70 C119.46,309.96 122.98,310.20 124.40,310.30" stroke="#959595" stroke-width="0.8" stroke-dasharray="1.2 0.5"/>
<path d="M36.30,261.20 C37.07,261.57 39.27,262.47 40.90,263.40 C42.53,264.33 44.14,265.45 46.10,266.80 C48.06,268.15 50.47,269.80 52.65,271.50 C54.83,273.20 57.28,275.17 59.20,277.00 C61.12,278.83 62.87,280.67 64.20,282.50 C65.53,284.33 66.35,286.25 67.20,288.00 C68.05,289.75 68.60,291.40 69.30,293.00 C70.00,294.60 70.70,296.30 71.40,297.60 C72.10,298.90 72.70,299.85 73.50,300.80 C74.30,301.75 75.03,302.57 76.20,303.30 C77.37,304.03 78.26,304.52 80.50,305.20 C82.74,305.88 85.94,306.81 89.65,307.40 C93.36,307.99 98.38,308.37 102.75,308.75 C107.12,309.13 112.24,309.44 115.85,309.70 C119.46,309.96 122.98,310.20 124.40,310.30" stroke="#333" stroke-width="1.15" stroke-dasharray="3.7 3.2"/>
<path d="M36.30,261.60 C37.07,261.98 39.27,262.95 40.90,263.90 C42.53,264.85 44.14,265.92 46.10,267.30 C48.06,268.68 50.47,270.45 52.65,272.20 C54.83,273.95 57.33,275.92 59.20,277.80 C61.08,279.68 62.62,281.63 63.90,283.50 C65.18,285.37 66.03,287.32 66.90,289.00 C67.77,290.68 68.37,292.13 69.10,293.60 C69.83,295.07 70.57,296.60 71.30,297.80 C72.03,299.00 72.68,299.88 73.50,300.80 C74.32,301.72 75.03,302.57 76.20,303.30 C77.37,304.03 78.26,304.52 80.50,305.20 C82.74,305.88 85.94,306.81 89.65,307.40 C93.36,307.99 98.38,308.37 102.75,308.75 C107.12,309.13 112.24,309.44 115.85,309.70 C119.46,309.96 122.98,310.20 124.40,310.30" stroke="#2b5c2b" stroke-width="1.15" stroke-dasharray="4.2 0.9 1.4 0.9"/>
</g>
<rect x="36.3" y="260.0" width="88.10" height="54.50" fill="none" stroke="#8c8c8c" stroke-width="0.9"/>
<text x="50.98" y="324.50" class="t" text-anchor="middle">400</text>
<text x="80.35" y="324.50" class="t" text-anchor="middle">600</text>
<text x="109.72" y="324.50" class="t" text-anchor="middle">800</text>
<text x="33.70" y="317.20" class="t" text-anchor="end">0</text>
<text x="33.70" y="300.78" class="t" text-anchor="end">200</text>
<text x="33.70" y="284.37" class="t" text-anchor="end">400</text>
<text x="33.70" y="267.95" class="t" text-anchor="end">600</text>
<text x="80.35" y="334.60" class="l" text-anchor="middle">T [K]</text>
<text transform="translate(18.50,287.25) rotate(-90)" class="l" text-anchor="middle" textLength="34.5" lengthAdjust="spacingAndGlyphs"><tspan font-style="italic">ρ</tspan> [kg/m<tspan dy="-3" font-size="6">3</tspan><tspan dy="3">]</tspan></text>
<line x1="174.55" y1="260.0" x2="174.55" y2="314.5" stroke="#f2f2f2" stroke-width="0.6"/>
<line x1="204.05" y1="260.0" x2="204.05" y2="314.5" stroke="#f2f2f2" stroke-width="0.6"/>
<line x1="233.55" y1="260.0" x2="233.55" y2="314.5" stroke="#f2f2f2" stroke-width="0.6"/>
<line x1="159.8" y1="313.96" x2="248.3" y2="313.96" stroke="#f2f2f2" stroke-width="0.6"/>
<line x1="159.8" y1="286.98" x2="248.3" y2="286.98" stroke="#f2f2f2" stroke-width="0.6"/>
<clipPath id="cpC2"><rect x="159.8" y="260.0" width="88.50" height="54.50"/></clipPath>
<g clip-path="url(#cpC2)" fill="none" stroke-linejoin="round">
<path d="M160.30,310.50 C161.93,309.65 167.38,306.92 170.10,305.40 C172.82,303.88 174.47,302.82 176.65,301.40 C178.83,299.98 181.38,298.53 183.20,296.90 C185.02,295.27 186.32,293.82 187.60,291.60 C188.88,289.38 190.02,286.53 190.90,283.60 C191.78,280.67 192.33,276.63 192.90,274.00 C193.47,271.37 193.93,268.88 194.30,267.80 C194.67,266.72 194.82,266.97 195.10,267.50 C195.38,268.03 195.63,268.55 196.00,271.00 C196.37,273.45 196.72,279.03 197.30,282.20 C197.88,285.37 198.58,287.97 199.50,290.00 C200.42,292.03 201.55,293.35 202.80,294.40 C204.05,295.45 205.47,295.92 207.00,296.30 C208.53,296.68 209.63,296.80 212.00,296.70 C214.37,296.60 217.48,296.20 221.20,295.70 C224.92,295.20 229.78,294.43 234.30,293.70 C238.82,292.97 245.97,291.70 248.30,291.30" stroke="#e2f3e2" stroke-width="2.8"/>
<path d="M160.30,310.70 C161.93,309.83 167.38,307.03 170.10,305.50 C172.82,303.97 174.47,302.92 176.65,301.50 C178.83,300.08 181.34,298.63 183.20,297.00 C185.06,295.37 186.48,294.00 187.80,291.70 C189.12,289.40 190.23,286.37 191.10,283.20 C191.97,280.03 192.47,275.65 193.00,272.70 C193.53,269.75 193.97,266.90 194.30,265.50 C194.63,264.10 194.78,264.13 195.00,264.30 C195.22,264.47 195.42,265.38 195.60,266.50 C195.78,267.62 195.82,268.42 196.10,271.00 C196.38,273.58 196.73,278.83 197.30,282.00 C197.87,285.17 198.58,287.93 199.50,290.00 C200.42,292.07 201.55,293.35 202.80,294.40 C204.05,295.45 205.47,295.92 207.00,296.30 C208.53,296.68 209.63,296.80 212.00,296.70 C214.37,296.60 217.48,296.20 221.20,295.70 C224.92,295.20 229.78,294.43 234.30,293.70 C238.82,292.97 245.97,291.70 248.30,291.30" stroke="#1a1a1a" stroke-width="1.2"/>
<path d="M160.30,311.30 C161.93,310.45 167.38,307.72 170.10,306.20 C172.82,304.68 174.47,303.60 176.65,302.20 C178.83,300.80 181.34,299.40 183.20,297.80 C185.06,296.20 186.48,294.82 187.80,292.60 C189.12,290.38 190.20,287.43 191.10,284.50 C192.00,281.57 192.62,277.50 193.20,275.00 C193.78,272.50 194.23,270.42 194.60,269.50 C194.97,268.58 195.12,268.83 195.40,269.50 C195.68,270.17 195.95,271.28 196.30,273.50 C196.65,275.72 196.95,280.00 197.50,282.80 C198.05,285.60 198.72,288.37 199.60,290.30 C200.48,292.23 201.57,293.40 202.80,294.40 C204.03,295.40 205.47,295.92 207.00,296.30 C208.53,296.68 209.63,296.80 212.00,296.70 C214.37,296.60 217.48,296.20 221.20,295.70 C224.92,295.20 229.78,294.43 234.30,293.70 C238.82,292.97 245.97,291.70 248.30,291.30" stroke="#959595" stroke-width="0.8" stroke-dasharray="1.2 0.5"/>
<path d="M160.30,310.90 C161.93,310.05 167.38,307.32 170.10,305.80 C172.82,304.28 174.47,303.22 176.65,301.80 C178.83,300.38 181.34,298.93 183.20,297.30 C185.06,295.67 186.48,294.25 187.80,292.00 C189.12,289.75 190.22,286.80 191.10,283.80 C191.98,280.80 192.53,276.72 193.10,274.00 C193.67,271.28 194.15,268.67 194.50,267.50 C194.85,266.33 194.93,266.50 195.20,267.00 C195.47,267.50 195.73,267.95 196.10,270.50 C196.47,273.05 196.83,279.03 197.40,282.30 C197.97,285.57 198.60,288.08 199.50,290.10 C200.40,292.12 201.55,293.37 202.80,294.40 C204.05,295.43 205.47,295.92 207.00,296.30 C208.53,296.68 209.63,296.80 212.00,296.70 C214.37,296.60 217.48,296.20 221.20,295.70 C224.92,295.20 229.78,294.43 234.30,293.70 C238.82,292.97 245.97,291.70 248.30,291.30" stroke="#333" stroke-width="1.15" stroke-dasharray="3.7 3.2"/>
<path d="M160.30,310.50 C161.93,309.65 167.38,306.92 170.10,305.40 C172.82,303.88 174.47,302.82 176.65,301.40 C178.83,299.98 181.38,298.53 183.20,296.90 C185.02,295.27 186.32,293.82 187.60,291.60 C188.88,289.38 190.02,286.53 190.90,283.60 C191.78,280.67 192.33,276.63 192.90,274.00 C193.47,271.37 193.93,268.88 194.30,267.80 C194.67,266.72 194.82,266.97 195.10,267.50 C195.38,268.03 195.63,268.55 196.00,271.00 C196.37,273.45 196.72,279.03 197.30,282.20 C197.88,285.37 198.58,287.97 199.50,290.00 C200.42,292.03 201.55,293.35 202.80,294.40 C204.05,295.45 205.47,295.92 207.00,296.30 C208.53,296.68 209.63,296.80 212.00,296.70 C214.37,296.60 217.48,296.20 221.20,295.70 C224.92,295.20 229.78,294.43 234.30,293.70 C238.82,292.97 245.97,291.70 248.30,291.30" stroke="#2b5c2b" stroke-width="1.15" stroke-dasharray="4.2 0.9 1.4 0.9"/>
</g>
<rect x="159.8" y="260.0" width="88.50" height="54.50" fill="none" stroke="#8c8c8c" stroke-width="0.9"/>
<text x="174.55" y="324.50" class="t" text-anchor="middle">400</text>
<text x="204.05" y="324.50" class="t" text-anchor="middle">600</text>
<text x="233.55" y="324.50" class="t" text-anchor="middle">800</text>
<text x="157.20" y="316.66" class="t" text-anchor="end">2</text>
<text x="157.20" y="289.68" class="t" text-anchor="end">4</text>
<text x="157.20" y="262.70" class="t" text-anchor="end">6</text>
<text x="204.05" y="334.60" class="l" text-anchor="middle">T [K]</text>
<text transform="translate(149.40,287.25) rotate(-90)" class="l" text-anchor="middle" textLength="51.3" lengthAdjust="spacingAndGlyphs"><tspan font-style="italic">c</tspan><tspan dy="1.5" font-size="6" font-style="italic">p</tspan><tspan dy="-1.5"> [10</tspan><tspan dy="-3" font-size="6">3</tspan><tspan dy="3">J/kgK]</tspan></text>
<line x1="50.98" y1="346.15" x2="50.98" y2="400.2" stroke="#f2f2f2" stroke-width="0.6"/>
<line x1="80.35" y1="346.15" x2="80.35" y2="400.2" stroke="#f2f2f2" stroke-width="0.6"/>
<line x1="109.72" y1="346.15" x2="109.72" y2="400.2" stroke="#f2f2f2" stroke-width="0.6"/>
<line x1="36.3" y1="373.17" x2="124.4" y2="373.17" stroke="#f2f2f2" stroke-width="0.6"/>
<clipPath id="cpC3"><rect x="36.3" y="346.15" width="88.10" height="54.05"/></clipPath>
<g clip-path="url(#cpC3)" fill="none" stroke-linejoin="round">
<path d="M36.60,353.00 C36.80,353.67 37.33,355.67 37.80,357.00 C38.27,358.33 38.73,359.63 39.40,361.00 C40.07,362.37 40.93,363.70 41.80,365.20 C42.67,366.70 43.73,368.57 44.60,370.00 C45.47,371.43 46.07,372.47 47.00,373.80 C47.93,375.13 49.10,376.67 50.20,378.00 C51.30,379.33 52.47,380.63 53.60,381.80 C54.73,382.97 55.90,384.00 57.00,385.00 C58.10,386.00 59.13,386.90 60.20,387.80 C61.27,388.70 62.30,389.53 63.40,390.40 C64.50,391.27 65.77,392.23 66.80,393.00 C67.83,393.77 68.73,394.43 69.60,395.00 C70.47,395.57 71.27,396.00 72.00,396.40 C72.73,396.80 72.83,397.20 74.00,397.40 C75.17,397.60 70.60,397.60 79.00,397.60 C87.40,397.60 116.83,397.43 124.40,397.40" stroke="#e2f3e2" stroke-width="2.8"/>
<path d="M36.60,358.60 C36.93,359.53 37.93,362.43 38.60,364.20 C39.27,365.97 39.73,367.53 40.60,369.20 C41.47,370.87 42.73,372.67 43.80,374.20 C44.87,375.73 45.93,377.10 47.00,378.40 C48.07,379.70 49.10,380.90 50.20,382.00 C51.30,383.10 52.47,384.03 53.60,385.00 C54.73,385.97 55.90,386.93 57.00,387.80 C58.10,388.67 59.13,389.47 60.20,390.20 C61.27,390.93 62.30,391.57 63.40,392.20 C64.50,392.83 65.77,393.47 66.80,394.00 C67.83,394.53 68.73,394.97 69.60,395.40 C70.47,395.83 71.27,396.27 72.00,396.60 C72.73,396.93 72.83,397.23 74.00,397.40 C75.17,397.57 70.60,397.60 79.00,397.60 C87.40,397.60 116.83,397.43 124.40,397.40" stroke="#1a1a1a" stroke-width="1.2"/>
<path d="M36.60,375.80 C37.33,376.53 39.27,378.67 41.00,380.20 C42.73,381.73 44.90,383.50 47.00,385.00 C49.10,386.50 51.40,387.90 53.60,389.20 C55.80,390.50 58.13,391.80 60.20,392.80 C62.27,393.80 64.27,394.57 66.00,395.20 C67.73,395.83 69.27,396.23 70.60,396.60 C71.93,396.97 72.60,397.23 74.00,397.40 C75.40,397.57 70.60,397.57 79.00,397.60 C87.40,397.63 116.83,397.60 124.40,397.60" stroke="#959595" stroke-width="0.8" stroke-dasharray="1.2 0.5"/>
<path d="M36.60,354.20 C36.80,354.87 37.33,356.87 37.80,358.20 C38.27,359.53 38.73,360.87 39.40,362.20 C40.07,363.53 40.93,364.73 41.80,366.20 C42.67,367.67 43.73,369.60 44.60,371.00 C45.47,372.40 46.07,373.27 47.00,374.60 C47.93,375.93 49.10,377.67 50.20,379.00 C51.30,380.33 52.47,381.47 53.60,382.60 C54.73,383.73 55.90,384.80 57.00,385.80 C58.10,386.80 59.13,387.73 60.20,388.60 C61.27,389.47 62.30,390.20 63.40,391.00 C64.50,391.80 65.77,392.70 66.80,393.40 C67.83,394.10 68.73,394.67 69.60,395.20 C70.47,395.73 71.27,396.23 72.00,396.60 C72.73,396.97 72.83,397.23 74.00,397.40 C75.17,397.57 70.60,397.60 79.00,397.60 C87.40,397.60 116.83,397.43 124.40,397.40" stroke="#333" stroke-width="1.15" stroke-dasharray="3.7 3.2"/>
<path d="M36.60,353.00 C36.80,353.67 37.33,355.67 37.80,357.00 C38.27,358.33 38.73,359.63 39.40,361.00 C40.07,362.37 40.93,363.70 41.80,365.20 C42.67,366.70 43.73,368.57 44.60,370.00 C45.47,371.43 46.07,372.47 47.00,373.80 C47.93,375.13 49.10,376.67 50.20,378.00 C51.30,379.33 52.47,380.63 53.60,381.80 C54.73,382.97 55.90,384.00 57.00,385.00 C58.10,386.00 59.13,386.90 60.20,387.80 C61.27,388.70 62.30,389.53 63.40,390.40 C64.50,391.27 65.77,392.23 66.80,393.00 C67.83,393.77 68.73,394.43 69.60,395.00 C70.47,395.57 71.27,396.00 72.00,396.40 C72.73,396.80 72.83,397.20 74.00,397.40 C75.17,397.60 70.60,397.60 79.00,397.60 C87.40,397.60 116.83,397.43 124.40,397.40" stroke="#2b5c2b" stroke-width="1.15" stroke-dasharray="4.2 0.9 1.4 0.9"/>
</g>
<rect x="36.3" y="346.15" width="88.10" height="54.05" fill="none" stroke="#8c8c8c" stroke-width="0.9"/>
<text x="50.98" y="410.20" class="t" text-anchor="middle">400</text>
<text x="80.35" y="410.20" class="t" text-anchor="middle">600</text>
<text x="109.72" y="410.20" class="t" text-anchor="middle">800</text>
<text x="33.70" y="402.90" class="t" text-anchor="end">0</text>
<text x="33.70" y="375.87" class="t" text-anchor="end">2</text>
<text x="33.70" y="348.85" class="t" text-anchor="end">4</text>
<text x="80.35" y="420.30" class="l" text-anchor="middle">T [K]</text>
<text transform="translate(24.80,373.17) rotate(-90)" class="l" text-anchor="middle" textLength="44.7" lengthAdjust="spacingAndGlyphs"><tspan font-style="italic">μ</tspan> [10<tspan dy="-3" font-size="6">−4</tspan><tspan dy="3">Pas]</tspan></text>
<line x1="174.55" y1="346.15" x2="174.55" y2="400.2" stroke="#f2f2f2" stroke-width="0.6"/>
<line x1="204.05" y1="346.15" x2="204.05" y2="400.2" stroke="#f2f2f2" stroke-width="0.6"/>
<line x1="233.55" y1="346.15" x2="233.55" y2="400.2" stroke="#f2f2f2" stroke-width="0.6"/>
<line x1="159.8" y1="397.60" x2="248.3" y2="397.60" stroke="#f2f2f2" stroke-width="0.6"/>
<line x1="159.8" y1="382.73" x2="248.3" y2="382.73" stroke="#f2f2f2" stroke-width="0.6"/>
<line x1="159.8" y1="367.86" x2="248.3" y2="367.86" stroke="#f2f2f2" stroke-width="0.6"/>
<line x1="159.8" y1="352.99" x2="248.3" y2="352.99" stroke="#f2f2f2" stroke-width="0.6"/>
<clipPath id="cpC4"><rect x="159.8" y="346.15" width="88.50" height="54.05"/></clipPath>
<g clip-path="url(#cpC4)" fill="none" stroke-linejoin="round">
<path d="M160.30,351.50 C161.93,354.02 167.38,362.78 170.10,366.60 C172.82,370.42 174.47,371.78 176.65,374.40 C178.83,377.02 181.02,379.88 183.20,382.30 C185.38,384.72 187.78,386.93 189.75,388.90 C191.72,390.87 193.69,392.92 195.00,394.10 C196.31,395.28 196.73,395.60 197.60,396.00 C198.47,396.40 199.30,396.53 200.20,396.50 C201.10,396.47 201.68,396.20 203.00,395.80 C204.32,395.40 205.07,395.70 208.10,394.10 C211.13,392.50 216.83,388.93 221.20,386.20 C225.57,383.47 229.78,380.67 234.30,377.70 C238.82,374.73 245.97,369.95 248.30,368.40" stroke="#e2f3e2" stroke-width="2.8"/>
<path d="M160.30,352.20 C161.07,353.28 163.27,356.52 164.90,358.70 C166.53,360.88 168.14,363.00 170.10,365.30 C172.06,367.60 174.47,370.32 176.65,372.50 C178.83,374.68 181.02,376.55 183.20,378.40 C185.38,380.25 188.12,382.25 189.75,383.60 C191.38,384.95 192.12,385.52 193.00,386.50 C193.88,387.48 194.42,388.25 195.00,389.50 C195.58,390.75 195.85,392.53 196.50,394.00 C197.15,395.47 198.07,397.37 198.90,398.30 C199.73,399.23 200.48,399.33 201.50,399.60 C202.52,399.87 203.90,399.95 205.00,399.90 C206.10,399.85 206.49,399.83 208.10,399.30 C209.71,398.77 212.47,397.68 214.65,396.70 C216.83,395.72 217.92,395.37 221.20,393.40 C224.47,391.43 229.78,387.83 234.30,384.90 C238.82,381.97 245.97,377.32 248.30,375.80" stroke="#1a1a1a" stroke-width="1.2"/>
<path d="M160.30,377.10 C161.07,377.63 163.27,379.22 164.90,380.30 C166.53,381.38 168.14,382.40 170.10,383.60 C172.06,384.80 174.47,386.30 176.65,387.50 C178.83,388.70 181.02,389.92 183.20,390.80 C185.38,391.68 187.78,392.17 189.75,392.80 C191.72,393.43 193.69,394.05 195.00,394.60 C196.31,395.15 196.73,395.77 197.60,396.10 C198.47,396.43 199.30,396.63 200.20,396.60 C201.10,396.57 201.68,396.30 203.00,395.90 C204.32,395.50 205.07,395.78 208.10,394.20 C211.13,392.62 216.83,389.12 221.20,386.40 C225.57,383.68 229.78,380.87 234.30,377.90 C238.82,374.93 245.97,370.15 248.30,368.60" stroke="#959595" stroke-width="0.8" stroke-dasharray="1.2 0.5"/>
<path d="M160.30,347.30 C161.07,348.55 163.27,352.24 164.90,354.80 C166.53,357.36 168.14,359.82 170.10,362.65 C172.06,365.48 174.47,368.74 176.65,371.80 C178.83,374.86 181.02,378.27 183.20,381.00 C185.38,383.73 187.78,386.02 189.75,388.20 C191.72,390.38 193.69,392.80 195.00,394.10 C196.31,395.40 196.73,395.60 197.60,396.00 C198.47,396.40 199.30,396.53 200.20,396.50 C201.10,396.47 201.68,396.20 203.00,395.80 C204.32,395.40 205.07,395.70 208.10,394.10 C211.13,392.50 216.83,388.93 221.20,386.20 C225.57,383.47 229.78,380.67 234.30,377.70 C238.82,374.73 245.97,369.95 248.30,368.40" stroke="#333" stroke-width="1.15" stroke-dasharray="3.7 3.2"/>
<path d="M160.30,351.50 C161.93,354.02 167.38,362.78 170.10,366.60 C172.82,370.42 174.47,371.78 176.65,374.40 C178.83,377.02 181.02,379.88 183.20,382.30 C185.38,384.72 187.78,386.93 189.75,388.90 C191.72,390.87 193.69,392.92 195.00,394.10 C196.31,395.28 196.73,395.60 197.60,396.00 C198.47,396.40 199.30,396.53 200.20,396.50 C201.10,396.47 201.68,396.20 203.00,395.80 C204.32,395.40 205.07,395.70 208.10,394.10 C211.13,392.50 216.83,388.93 221.20,386.20 C225.57,383.47 229.78,380.67 234.30,377.70 C238.82,374.73 245.97,369.95 248.30,368.40" stroke="#2b5c2b" stroke-width="1.15" stroke-dasharray="4.2 0.9 1.4 0.9"/>
</g>
<rect x="159.8" y="346.15" width="88.50" height="54.05" fill="none" stroke="#8c8c8c" stroke-width="0.9"/>
<text x="174.55" y="410.20" class="t" text-anchor="middle">400</text>
<text x="204.05" y="410.20" class="t" text-anchor="middle">600</text>
<text x="233.55" y="410.20" class="t" text-anchor="middle">800</text>
<text x="157.20" y="400.30" class="t" text-anchor="end">0.06</text>
<text x="157.20" y="385.43" class="t" text-anchor="end">0.08</text>
<text x="157.20" y="370.56" class="t" text-anchor="end">0.1</text>
<text x="157.20" y="355.69" class="t" text-anchor="end">0.12</text>
<text x="204.05" y="420.30" class="l" text-anchor="middle">T [K]</text>
<text transform="translate(138.05,373.17) rotate(-90)" class="l" text-anchor="middle" textLength="40.0" lengthAdjust="spacingAndGlyphs"><tspan>λ</tspan> [W/mK]</text>
<line x1="310.98" y1="260.0" x2="310.98" y2="314.5" stroke="#f2f2f2" stroke-width="0.6"/>
<line x1="340.35" y1="260.0" x2="340.35" y2="314.5" stroke="#f2f2f2" stroke-width="0.6"/>
<line x1="369.72" y1="260.0" x2="369.72" y2="314.5" stroke="#f2f2f2" stroke-width="0.6"/>
<line x1="296.3" y1="299.71" x2="384.4" y2="299.71" stroke="#f2f2f2" stroke-width="0.6"/>
<line x1="296.3" y1="284.92" x2="384.4" y2="284.92" stroke="#f2f2f2" stroke-width="0.6"/>
<line x1="296.3" y1="270.13" x2="384.4" y2="270.13" stroke="#f2f2f2" stroke-width="0.6"/>
<clipPath id="cpD1"><rect x="296.3" y="260.0" width="88.10" height="54.50"/></clipPath>
<g clip-path="url(#cpD1)" fill="none" stroke-linejoin="round">
<path d="M296.30,261.20 C298.27,261.73 303.95,263.12 308.10,264.40 C312.25,265.68 316.83,267.17 321.20,268.90 C325.57,270.63 330.68,272.85 334.30,274.80 C337.92,276.75 340.60,278.90 342.90,280.60 C345.20,282.30 346.58,283.17 348.10,285.00 C349.62,286.83 350.90,289.47 352.00,291.60 C353.10,293.73 353.82,295.93 354.70,297.80 C355.58,299.67 356.22,301.57 357.30,302.80 C358.38,304.03 359.23,304.48 361.20,305.20 C363.17,305.92 365.13,306.40 369.10,307.10 C373.07,307.80 382.35,309.02 385.00,309.40" stroke="#e2f3e2" stroke-width="2.8"/>
<path d="M296.30,260.60 C298.27,261.15 303.95,262.58 308.10,263.90 C312.25,265.22 316.83,266.72 321.20,268.50 C325.57,270.28 330.68,272.63 334.30,274.60 C337.92,276.57 340.60,278.70 342.90,280.30 C345.20,281.90 346.58,282.45 348.10,284.20 C349.62,285.95 350.90,288.62 352.00,290.80 C353.10,292.98 353.82,295.33 354.70,297.30 C355.58,299.27 356.22,301.28 357.30,302.60 C358.38,303.92 359.23,304.45 361.20,305.20 C363.17,305.95 365.13,306.40 369.10,307.10 C373.07,307.80 382.35,309.02 385.00,309.40" stroke="#1a1a1a" stroke-width="1.2"/>
<path d="M296.30,270.50 C298.27,270.82 303.95,271.43 308.10,272.40 C312.25,273.37 316.83,274.77 321.20,276.30 C325.57,277.83 330.68,279.95 334.30,281.60 C337.92,283.25 340.60,284.57 342.90,286.20 C345.20,287.83 346.38,289.37 348.10,291.40 C349.82,293.43 351.67,296.47 353.20,298.40 C354.73,300.33 355.97,301.83 357.30,303.00 C358.63,304.17 359.23,304.70 361.20,305.40 C363.17,306.10 365.13,306.53 369.10,307.20 C373.07,307.87 382.35,309.03 385.00,309.40" stroke="#959595" stroke-width="0.8" stroke-dasharray="1.2 0.5"/>
<path d="M296.30,266.10 C298.27,266.50 303.95,267.33 308.10,268.50 C312.25,269.67 316.83,271.47 321.20,273.10 C325.57,274.73 330.37,276.45 334.30,278.30 C338.23,280.15 342.18,282.42 344.80,284.20 C347.42,285.98 348.57,287.03 350.00,289.00 C351.43,290.97 352.40,293.93 353.40,296.00 C354.40,298.07 355.07,299.97 356.00,301.40 C356.93,302.83 357.67,303.80 359.00,304.60 C360.33,305.40 359.67,305.40 364.00,306.20 C368.33,307.00 381.50,308.87 385.00,309.40" stroke="#333" stroke-width="1.15" stroke-dasharray="3.7 3.2"/>
<path d="M296.30,261.20 C298.27,261.73 303.95,263.12 308.10,264.40 C312.25,265.68 316.83,267.17 321.20,268.90 C325.57,270.63 330.68,272.85 334.30,274.80 C337.92,276.75 340.60,278.90 342.90,280.60 C345.20,282.30 346.58,283.17 348.10,285.00 C349.62,286.83 350.90,289.47 352.00,291.60 C353.10,293.73 353.82,295.93 354.70,297.80 C355.58,299.67 356.22,301.57 357.30,302.80 C358.38,304.03 359.23,304.48 361.20,305.20 C363.17,305.92 365.13,306.40 369.10,307.10 C373.07,307.80 382.35,309.02 385.00,309.40" stroke="#2b5c2b" stroke-width="1.15" stroke-dasharray="4.2 0.9 1.4 0.9"/>
</g>
<rect x="296.3" y="260.0" width="88.10" height="54.50" fill="none" stroke="#8c8c8c" stroke-width="0.9"/>
<text x="310.98" y="324.50" class="t" text-anchor="middle">400</text>
<text x="340.35" y="324.50" class="t" text-anchor="middle">600</text>
<text x="369.72" y="324.50" class="t" text-anchor="middle">800</text>
<text x="293.70" y="317.20" class="t" text-anchor="end">0</text>
<text x="293.70" y="302.41" class="t" text-anchor="end">200</text>
<text x="293.70" y="287.62" class="t" text-anchor="end">400</text>
<text x="293.70" y="272.83" class="t" text-anchor="end">600</text>
<text x="340.35" y="334.60" class="l" text-anchor="middle">T [K]</text>
<text transform="translate(278.00,287.25) rotate(-90)" class="l" text-anchor="middle" textLength="34.5" lengthAdjust="spacingAndGlyphs"><tspan font-style="italic">ρ</tspan> [kg/m<tspan dy="-3" font-size="6">3</tspan><tspan dy="3">]</tspan></text>
<line x1="434.55" y1="260.0" x2="434.55" y2="314.5" stroke="#f2f2f2" stroke-width="0.6"/>
<line x1="464.05" y1="260.0" x2="464.05" y2="314.5" stroke="#f2f2f2" stroke-width="0.6"/>
<line x1="493.55" y1="260.0" x2="493.55" y2="314.5" stroke="#f2f2f2" stroke-width="0.6"/>
<line x1="419.8" y1="313.97" x2="508.3" y2="313.97" stroke="#f2f2f2" stroke-width="0.6"/>
<line x1="419.8" y1="296.39" x2="508.3" y2="296.39" stroke="#f2f2f2" stroke-width="0.6"/>
<line x1="419.8" y1="278.81" x2="508.3" y2="278.81" stroke="#f2f2f2" stroke-width="0.6"/>
<line x1="419.8" y1="261.23" x2="508.3" y2="261.23" stroke="#f2f2f2" stroke-width="0.6"/>
<clipPath id="cpD2"><rect x="419.8" y="260.0" width="88.50" height="54.50"/></clipPath>
<g clip-path="url(#cpD2)" fill="none" stroke-linejoin="round">
<path d="M420.30,313.70 C421.93,312.75 426.28,310.12 430.10,308.00 C433.92,305.88 439.05,303.18 443.20,301.00 C447.35,298.82 451.94,296.52 455.00,294.90 C458.06,293.28 459.58,292.47 461.55,291.30 C463.52,290.13 465.23,289.12 466.80,287.90 C468.38,286.68 469.88,285.28 471.00,284.00 C472.12,282.72 472.80,281.62 473.50,280.20 C474.20,278.78 474.72,277.10 475.20,275.50 C475.68,273.90 476.05,271.75 476.40,270.60 C476.75,269.45 477.00,268.87 477.30,268.60 C477.60,268.33 477.88,268.43 478.20,269.00 C478.52,269.57 478.82,270.75 479.20,272.00 C479.58,273.25 479.95,274.98 480.50,276.50 C481.05,278.02 481.52,279.65 482.50,281.10 C483.48,282.55 484.87,284.23 486.40,285.20 C487.93,286.17 489.29,286.68 491.70,286.90 C494.11,287.12 498.08,286.72 500.85,286.50 C503.62,286.28 507.06,285.75 508.30,285.60" stroke="#e2f3e2" stroke-width="2.8"/>
<path d="M420.30,310.10 C421.93,309.33 426.28,307.25 430.10,305.50 C433.92,303.75 439.05,301.45 443.20,299.60 C447.35,297.75 451.94,295.85 455.00,294.40 C458.06,292.95 459.58,292.03 461.55,290.90 C463.52,289.77 465.23,288.83 466.80,287.60 C468.38,286.37 469.88,284.85 471.00,283.50 C472.12,282.15 472.80,281.08 473.50,279.50 C474.20,277.92 474.73,275.92 475.20,274.00 C475.67,272.08 475.97,269.92 476.30,268.00 C476.63,266.08 476.93,263.83 477.20,262.50 C477.47,261.17 477.67,260.00 477.90,260.00 C478.13,260.00 478.33,261.17 478.60,262.50 C478.87,263.83 479.18,266.08 479.50,268.00 C479.82,269.92 480.00,271.93 480.50,274.00 C481.00,276.07 481.52,278.53 482.50,280.40 C483.48,282.27 484.87,284.12 486.40,285.20 C487.93,286.28 489.29,286.68 491.70,286.90 C494.11,287.12 498.08,286.72 500.85,286.50 C503.62,286.28 507.06,285.75 508.30,285.60" stroke="#1a1a1a" stroke-width="1.2"/>
<path d="M420.30,314.20 C421.93,313.23 426.28,310.57 430.10,308.40 C433.92,306.23 439.05,303.43 443.20,301.20 C447.35,298.97 451.94,296.63 455.00,295.00 C458.06,293.37 459.58,292.57 461.55,291.40 C463.52,290.23 465.23,289.20 466.80,288.00 C468.38,286.80 469.88,285.45 471.00,284.20 C472.12,282.95 472.80,281.87 473.50,280.50 C474.20,279.13 474.70,277.50 475.20,276.00 C475.70,274.50 476.13,272.53 476.50,271.50 C476.87,270.47 477.10,270.00 477.40,269.80 C477.70,269.60 477.98,269.77 478.30,270.30 C478.62,270.83 478.93,271.88 479.30,273.00 C479.67,274.12 479.97,275.62 480.50,277.00 C481.03,278.38 481.52,279.93 482.50,281.30 C483.48,282.67 484.87,284.27 486.40,285.20 C487.93,286.13 489.29,286.68 491.70,286.90 C494.11,287.12 498.08,286.72 500.85,286.50 C503.62,286.28 507.06,285.75 508.30,285.60" stroke="#959595" stroke-width="0.8" stroke-dasharray="1.2 0.5"/>
<path d="M420.30,313.20 C421.93,312.27 426.28,309.68 430.10,307.60 C433.92,305.52 439.05,302.83 443.20,300.70 C447.35,298.57 451.94,296.38 455.00,294.80 C458.06,293.22 459.58,292.37 461.55,291.20 C463.52,290.03 465.23,289.03 466.80,287.80 C468.38,286.57 469.88,285.10 471.00,283.80 C472.12,282.50 472.80,281.47 473.50,280.00 C474.20,278.53 474.72,276.67 475.20,275.00 C475.68,273.33 476.05,271.20 476.40,270.00 C476.75,268.80 477.00,268.08 477.30,267.80 C477.60,267.52 477.88,267.68 478.20,268.30 C478.52,268.92 478.82,270.22 479.20,271.50 C479.58,272.78 479.95,274.42 480.50,276.00 C481.05,277.58 481.52,279.47 482.50,281.00 C483.48,282.53 484.87,284.22 486.40,285.20 C487.93,286.18 489.29,286.68 491.70,286.90 C494.11,287.12 498.08,286.72 500.85,286.50 C503.62,286.28 507.06,285.75 508.30,285.60" stroke="#333" stroke-width="1.15" stroke-dasharray="3.7 3.2"/>
<path d="M420.30,313.70 C421.93,312.75 426.28,310.12 430.10,308.00 C433.92,305.88 439.05,303.18 443.20,301.00 C447.35,298.82 451.94,296.52 455.00,294.90 C458.06,293.28 459.58,292.47 461.55,291.30 C463.52,290.13 465.23,289.12 466.80,287.90 C468.38,286.68 469.88,285.28 471.00,284.00 C472.12,282.72 472.80,281.62 473.50,280.20 C474.20,278.78 474.72,277.10 475.20,275.50 C475.68,273.90 476.05,271.75 476.40,270.60 C476.75,269.45 477.00,268.87 477.30,268.60 C477.60,268.33 477.88,268.43 478.20,269.00 C478.52,269.57 478.82,270.75 479.20,272.00 C479.58,273.25 479.95,274.98 480.50,276.50 C481.05,278.02 481.52,279.65 482.50,281.10 C483.48,282.55 484.87,284.23 486.40,285.20 C487.93,286.17 489.29,286.68 491.70,286.90 C494.11,287.12 498.08,286.72 500.85,286.50 C503.62,286.28 507.06,285.75 508.30,285.60" stroke="#2b5c2b" stroke-width="1.15" stroke-dasharray="4.2 0.9 1.4 0.9"/>
</g>
<rect x="419.8" y="260.0" width="88.50" height="54.50" fill="none" stroke="#8c8c8c" stroke-width="0.9"/>
<text x="434.55" y="324.50" class="t" text-anchor="middle">400</text>
<text x="464.05" y="324.50" class="t" text-anchor="middle">600</text>
<text x="493.55" y="324.50" class="t" text-anchor="middle">800</text>
<text x="417.20" y="316.67" class="t" text-anchor="end">2</text>
<text x="417.20" y="299.09" class="t" text-anchor="end">3</text>
<text x="417.20" y="281.51" class="t" text-anchor="end">4</text>
<text x="417.20" y="263.93" class="t" text-anchor="end">5</text>
<text x="464.05" y="334.60" class="l" text-anchor="middle">T [K]</text>
<text transform="translate(409.10,287.25) rotate(-90)" class="l" text-anchor="middle" textLength="51.3" lengthAdjust="spacingAndGlyphs"><tspan font-style="italic">c</tspan><tspan dy="1.5" font-size="6" font-style="italic">p</tspan><tspan dy="-1.5"> [10</tspan><tspan dy="-3" font-size="6">3</tspan><tspan dy="3">J/kgK]</tspan></text>
<line x1="310.98" y1="346.15" x2="310.98" y2="400.2" stroke="#f2f2f2" stroke-width="0.6"/>
<line x1="340.35" y1="346.15" x2="340.35" y2="400.2" stroke="#f2f2f2" stroke-width="0.6"/>
<line x1="369.72" y1="346.15" x2="369.72" y2="400.2" stroke="#f2f2f2" stroke-width="0.6"/>
<line x1="296.3" y1="382.18" x2="384.4" y2="382.18" stroke="#f2f2f2" stroke-width="0.6"/>
<line x1="296.3" y1="364.17" x2="384.4" y2="364.17" stroke="#f2f2f2" stroke-width="0.6"/>
<clipPath id="cpD3"><rect x="296.3" y="346.15" width="88.10" height="54.05"/></clipPath>
<g clip-path="url(#cpD3)" fill="none" stroke-linejoin="round">
<path d="M296.30,351.00 C296.65,352.25 297.63,356.12 298.40,358.50 C299.17,360.88 300.05,363.13 300.90,365.30 C301.75,367.47 302.63,369.65 303.50,371.50 C304.37,373.35 304.58,374.17 306.10,376.40 C307.62,378.63 310.47,382.68 312.65,384.90 C314.83,387.12 317.02,388.43 319.20,389.70 C321.38,390.97 323.57,391.68 325.75,392.50 C327.93,393.32 330.26,393.97 332.30,394.60 C334.34,395.23 335.82,395.70 338.00,396.30 C340.18,396.90 342.80,397.68 345.40,398.20 C348.00,398.72 351.17,399.17 353.60,399.40 C356.03,399.63 354.87,399.57 360.00,399.60 C365.13,399.63 380.33,399.60 384.40,399.60" stroke="#e2f3e2" stroke-width="2.8"/>
<path d="M296.30,351.50 C296.62,352.92 297.43,357.27 298.20,360.00 C298.97,362.73 300.02,365.50 300.90,367.90 C301.78,370.30 302.63,372.55 303.50,374.40 C304.37,376.25 304.58,377.03 306.10,379.00 C307.62,380.97 310.47,384.33 312.65,386.20 C314.83,388.07 317.02,389.13 319.20,390.20 C321.38,391.27 323.57,391.87 325.75,392.60 C327.93,393.33 330.26,393.98 332.30,394.60 C334.34,395.22 335.82,395.70 338.00,396.30 C340.18,396.90 342.80,397.68 345.40,398.20 C348.00,398.72 351.17,399.17 353.60,399.40 C356.03,399.63 354.87,399.57 360.00,399.60 C365.13,399.63 380.33,399.60 384.40,399.60" stroke="#1a1a1a" stroke-width="1.2"/>
<path d="M296.30,388.20 C297.07,388.53 299.27,389.55 300.90,390.20 C302.53,390.85 304.14,391.45 306.10,392.10 C308.06,392.75 310.47,393.55 312.65,394.10 C314.83,394.65 315.92,394.88 319.20,395.40 C322.48,395.92 327.93,396.67 332.30,397.20 C336.67,397.73 341.85,398.23 345.40,398.60 C348.95,398.97 351.17,399.23 353.60,399.40 C356.03,399.57 354.87,399.57 360.00,399.60 C365.13,399.63 380.33,399.60 384.40,399.60" stroke="#959595" stroke-width="0.8" stroke-dasharray="1.2 0.5"/>
<path d="M296.30,375.75 C297.07,376.62 299.27,379.36 300.90,381.00 C302.53,382.64 304.14,384.18 306.10,385.60 C308.06,387.02 310.47,388.42 312.65,389.50 C314.83,390.58 317.02,391.42 319.20,392.10 C321.38,392.78 323.57,393.15 325.75,393.60 C327.93,394.05 330.26,394.35 332.30,394.80 C334.34,395.25 335.82,395.73 338.00,396.30 C340.18,396.87 342.80,397.68 345.40,398.20 C348.00,398.72 351.17,399.17 353.60,399.40 C356.03,399.63 354.87,399.57 360.00,399.60 C365.13,399.63 380.33,399.60 384.40,399.60" stroke="#333" stroke-width="1.15" stroke-dasharray="3.7 3.2"/>
<path d="M296.30,351.00 C296.65,352.25 297.63,356.12 298.40,358.50 C299.17,360.88 300.05,363.13 300.90,365.30 C301.75,367.47 302.63,369.65 303.50,371.50 C304.37,373.35 304.58,374.17 306.10,376.40 C307.62,378.63 310.47,382.68 312.65,384.90 C314.83,387.12 317.02,388.43 319.20,389.70 C321.38,390.97 323.57,391.68 325.75,392.50 C327.93,393.32 330.26,393.97 332.30,394.60 C334.34,395.23 335.82,395.70 338.00,396.30 C340.18,396.90 342.80,397.68 345.40,398.20 C348.00,398.72 351.17,399.17 353.60,399.40 C356.03,399.63 354.87,399.57 360.00,399.60 C365.13,399.63 380.33,399.60 384.40,399.60" stroke="#2b5c2b" stroke-width="1.15" stroke-dasharray="4.2 0.9 1.4 0.9"/>
</g>
<rect x="296.3" y="346.15" width="88.10" height="54.05" fill="none" stroke="#8c8c8c" stroke-width="0.9"/>
<text x="310.98" y="410.20" class="t" text-anchor="middle">400</text>
<text x="340.35" y="410.20" class="t" text-anchor="middle">600</text>
<text x="369.72" y="410.20" class="t" text-anchor="middle">800</text>
<text x="293.70" y="402.90" class="t" text-anchor="end">0</text>
<text x="293.70" y="384.88" class="t" text-anchor="end">5</text>
<text x="293.70" y="366.87" class="t" text-anchor="end">10</text>
<text x="293.70" y="348.85" class="t" text-anchor="end">15</text>
<text x="340.35" y="420.30" class="l" text-anchor="middle">T [K]</text>
<text transform="translate(281.90,373.17) rotate(-90)" class="l" text-anchor="middle" textLength="44.7" lengthAdjust="spacingAndGlyphs"><tspan font-style="italic">μ</tspan> [10<tspan dy="-3" font-size="6">−4</tspan><tspan dy="3">Pas]</tspan></text>
<line x1="434.55" y1="346.15" x2="434.55" y2="400.2" stroke="#f2f2f2" stroke-width="0.6"/>
<line x1="464.05" y1="346.15" x2="464.05" y2="400.2" stroke="#f2f2f2" stroke-width="0.6"/>
<line x1="493.55" y1="346.15" x2="493.55" y2="400.2" stroke="#f2f2f2" stroke-width="0.6"/>
<line x1="419.8" y1="373.17" x2="508.3" y2="373.17" stroke="#f2f2f2" stroke-width="0.6"/>
<clipPath id="cpD4"><rect x="419.8" y="346.15" width="88.50" height="54.05"/></clipPath>
<g clip-path="url(#cpD4)" fill="none" stroke-linejoin="round">
<path d="M420.30,351.10 C421.93,351.38 426.28,351.63 430.10,352.80 C433.92,353.97 438.83,355.80 443.20,358.10 C447.57,360.40 453.24,364.42 456.30,366.60 C459.36,368.78 459.80,369.68 461.55,371.20 C463.30,372.72 465.06,374.15 466.80,375.75 C468.54,377.35 470.55,379.26 472.00,380.80 C473.45,382.34 474.50,383.72 475.50,385.00 C476.50,386.28 477.17,387.37 478.00,388.50 C478.83,389.63 479.50,391.02 480.50,391.80 C481.50,392.58 482.79,392.92 484.00,393.20 C485.21,393.48 486.03,393.60 487.75,393.50 C489.47,393.40 492.09,393.05 494.30,392.60 C496.51,392.15 498.67,391.40 501.00,390.80 C503.33,390.20 507.08,389.30 508.30,389.00" stroke="#e2f3e2" stroke-width="2.8"/>
<path d="M420.30,354.10 C421.93,355.30 426.28,358.57 430.10,361.30 C433.92,364.03 438.83,367.43 443.20,370.50 C447.57,373.57 452.37,377.08 456.30,379.70 C460.23,382.32 464.18,384.67 466.80,386.20 C469.42,387.73 470.30,388.13 472.00,388.90 C473.70,389.67 475.47,390.18 477.00,390.80 C478.53,391.42 479.41,392.18 481.20,392.60 C482.99,393.02 485.57,393.37 487.75,393.30 C489.93,393.23 492.09,392.70 494.30,392.20 C496.51,391.70 498.67,390.97 501.00,390.30 C503.33,389.63 507.08,388.55 508.30,388.20" stroke="#1a1a1a" stroke-width="1.2"/>
<path d="M420.30,384.30 C421.93,383.97 426.28,382.85 430.10,382.30 C433.92,381.75 438.83,381.18 443.20,381.00 C447.57,380.82 453.24,381.12 456.30,381.25 C459.36,381.38 459.80,381.51 461.55,381.80 C463.30,382.09 465.06,382.50 466.80,383.00 C468.54,383.50 470.55,384.13 472.00,384.80 C473.45,385.47 474.40,386.10 475.50,387.00 C476.60,387.90 477.60,389.28 478.60,390.20 C479.60,391.12 479.98,391.93 481.50,392.50 C483.02,393.07 485.62,393.53 487.75,393.60 C489.88,393.67 492.09,393.30 494.30,392.90 C496.51,392.50 498.67,391.75 501.00,391.20 C503.33,390.65 507.08,389.87 508.30,389.60" stroke="#959595" stroke-width="0.8" stroke-dasharray="1.2 0.5"/>
<path d="M420.30,367.20 C421.93,367.20 426.28,366.75 430.10,367.20 C433.92,367.65 438.83,368.67 443.20,369.90 C447.57,371.13 453.24,373.40 456.30,374.60 C459.36,375.80 459.80,376.30 461.55,377.10 C463.30,377.90 465.06,378.47 466.80,379.40 C468.54,380.33 470.63,381.68 472.00,382.70 C473.37,383.72 474.12,384.58 475.00,385.50 C475.88,386.42 476.47,387.23 477.30,388.20 C478.13,389.17 478.88,390.50 480.00,391.30 C481.12,392.10 482.71,392.63 484.00,393.00 C485.29,393.37 486.03,393.55 487.75,393.50 C489.47,393.45 492.09,393.12 494.30,392.70 C496.51,392.28 498.67,391.58 501.00,391.00 C503.33,390.42 507.08,389.50 508.30,389.20" stroke="#333" stroke-width="1.15" stroke-dasharray="3.7 3.2"/>
<path d="M420.30,351.10 C421.93,351.38 426.28,351.63 430.10,352.80 C433.92,353.97 438.83,355.80 443.20,358.10 C447.57,360.40 453.24,364.42 456.30,366.60 C459.36,368.78 459.80,369.68 461.55,371.20 C463.30,372.72 465.06,374.15 466.80,375.75 C468.54,377.35 470.55,379.26 472.00,380.80 C473.45,382.34 474.50,383.72 475.50,385.00 C476.50,386.28 477.17,387.37 478.00,388.50 C478.83,389.63 479.50,391.02 480.50,391.80 C481.50,392.58 482.79,392.92 484.00,393.20 C485.21,393.48 486.03,393.60 487.75,393.50 C489.47,393.40 492.09,393.05 494.30,392.60 C496.51,392.15 498.67,391.40 501.00,390.80 C503.33,390.20 507.08,389.30 508.30,389.00" stroke="#2b5c2b" stroke-width="1.15" stroke-dasharray="4.2 0.9 1.4 0.9"/>
</g>
<rect x="419.8" y="346.15" width="88.50" height="54.05" fill="none" stroke="#8c8c8c" stroke-width="0.9"/>
<text x="434.55" y="410.20" class="t" text-anchor="middle">400</text>
<text x="464.05" y="410.20" class="t" text-anchor="middle">600</text>
<text x="493.55" y="410.20" class="t" text-anchor="middle">800</text>
<text x="417.20" y="402.90" class="t" text-anchor="end">0.05</text>
<text x="417.20" y="375.87" class="t" text-anchor="end">0.1</text>
<text x="417.20" y="348.85" class="t" text-anchor="end">0.15</text>
<text x="464.05" y="420.30" class="l" text-anchor="middle">T [K]</text>
<text transform="translate(398.05,373.17) rotate(-90)" class="l" text-anchor="middle" textLength="40.0" lengthAdjust="spacingAndGlyphs"><tspan>λ</tspan> [W/mK]</text>
<text x="28.75" y="223.0" class="c" textLength="201.2" lengthAdjust="spacingAndGlyphs">(a) <tspan font-weight="bold">Methane</tspan> (<tspan font-style="italic">Z</tspan><tspan font-style="italic" font-size="7" dy="1.5">c</tspan><tspan dy="-1.5"> = 0.2863, </tspan><tspan font-style="italic">T</tspan><tspan font-style="italic" font-size="7" dy="1.5">c</tspan><tspan dy="-1.5"> = 190.6 K)</tspan></text>
<text x="276.3" y="223.0" class="c" textLength="226.9" lengthAdjust="spacingAndGlyphs">(b) <tspan font-weight="bold">Cyclopentane</tspan> (<tspan font-style="italic">Z</tspan><tspan font-style="italic" font-size="7" dy="1.5">c</tspan><tspan dy="-1.5"> = 0.2813, </tspan><tspan font-style="italic">T</tspan><tspan font-style="italic" font-size="7" dy="1.5">c</tspan><tspan dy="-1.5"> = 511.7 K)</tspan></text>
<text x="25.9" y="443.3" class="c" textLength="207.2" lengthAdjust="spacingAndGlyphs">(c) <tspan font-weight="bold">n-Hexane</tspan> (<tspan font-style="italic">Z</tspan><tspan font-style="italic" font-size="7" dy="1.5">c</tspan><tspan dy="-1.5"> = 0.2664, </tspan><tspan font-style="italic">T</tspan><tspan font-style="italic" font-size="7" dy="1.5">c</tspan><tspan dy="-1.5"> = 507.8 K )</tspan></text>
<text x="280.6" y="443.3" class="c" textLength="217.8" lengthAdjust="spacingAndGlyphs">(d) <tspan font-weight="bold">n-Dodecane</tspan> (<tspan font-style="italic">Z</tspan><tspan font-style="italic" font-size="7" dy="1.5">c</tspan><tspan dy="-1.5"> = 0.2497, </tspan><tspan font-style="italic">T</tspan><tspan font-style="italic" font-size="7" dy="1.5">c</tspan><tspan dy="-1.5"> = 658.1 K)</tspan></text>
<rect x="150.4" y="1.8" width="218.3" height="12.9" fill="#fff" stroke="#888" stroke-width="0.9"/>
<line x1="153.2" y1="8.5" x2="177" y2="8.5" stroke="#111" stroke-width="1.4"/>
<text x="179.8" y="11.2" class="g" textLength="33.0" lengthAdjust="spacingAndGlyphs">Ref Data</text>
<line x1="219.9" y1="8.5" x2="243.8" y2="8.5" stroke="#505050" stroke-width="0.95" stroke-dasharray="1 0.75"/>
<text x="245.5" y="11.2" class="g" textLength="17.6" lengthAdjust="spacingAndGlyphs">SRK</text>
<line x1="269.9" y1="8.5" x2="292.6" y2="8.5" stroke="#333" stroke-width="1.0" stroke-dasharray="4.5 4.5"/>
<text x="296.2" y="11.2" class="g" textLength="11.4" lengthAdjust="spacingAndGlyphs">PR</text>
<line x1="314.3" y1="8.5" x2="336.9" y2="8.5" stroke="#2b5c2b" stroke-width="1.1" stroke-dasharray="4.5 1 1.7 1.7"/>
<text x="340.5" y="11.2" class="g" textLength="24.5" lengthAdjust="spacingAndGlyphs">RKPR</text>
</g>
</svg>
</body></html>
